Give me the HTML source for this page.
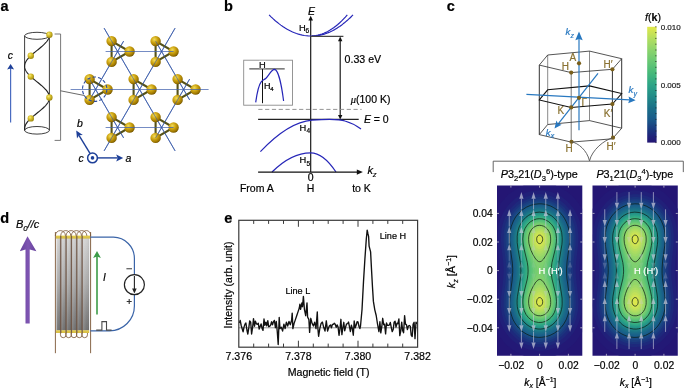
<!DOCTYPE html>
<html><head><meta charset="utf-8"><title>Figure</title>
<style>html,body{margin:0;padding:0;background:#fff;}svg{display:block;}</style></head>
<body><svg width="685" height="389" viewBox="0 0 685 389">
<defs>
<radialGradient id="gball" cx="0.38" cy="0.34" r="0.66">
    <stop offset="0" stop-color="#f2dc5c"/><stop offset="0.45" stop-color="#cfa612"/><stop offset="0.85" stop-color="#a07800"/><stop offset="1" stop-color="#7c5c00"/></radialGradient>
<radialGradient id="gball2" cx="0.38" cy="0.34" r="0.66">
    <stop offset="0" stop-color="#f4ea80"/><stop offset="0.4" stop-color="#dcc430"/><stop offset="1" stop-color="#a08a10"/></radialGradient>
<clipPath id="clipP"><rect x="0" y="0" width="85.3" height="170.2"/></clipPath>
<g id="fieldimg"><rect x="-1" y="-1" width="87.3" height="172.2" fill="#241674"/><path d="M58.1,170.2 27.2,170.2 25.1,169.4 17.9,165.7 14.3,163.3 10.8,160.3 7.8,157.4 4.8,153.8 2.2,150.3 0.0,146.5 0.0,23.5 2.6,19.2 5.2,15.7 8.3,12.1 11.5,9.0 15.1,6.2 18.6,3.8 22.2,1.9 26.7,0.0 58.6,0.0 59.5,0.3 63.1,1.9 67.4,4.3 71.0,6.7 74.5,9.7 77.7,12.8 80.7,16.4 85.3,23.5 85.3,146.5 82.6,151.0 80.0,154.5 76.8,158.1 73.8,161.0 70.2,163.8 66.7,166.2 62.4,168.5 58.1,170.2Z" fill="#231976"/><path d="M45.9,165.2 41.6,165.3 37.3,165.0 33.0,164.2 28.7,162.8 25.1,161.3 20.8,158.8 17.2,156.2 13.7,153.1 10.6,149.5 8.0,146.0 5.9,142.4 4.0,138.2 2.5,133.9 1.2,128.9 0.5,123.9 0.2,119.6 0.5,111.8 2.6,93.3 3.0,84.7 2.6,76.2 0.5,58.4 0.3,49.8 1.2,41.3 3.3,33.5 6.2,27.1 9.9,21.4 14.3,16.4 18.6,12.7 23.7,9.5 29.4,6.9 35.1,5.4 41.6,4.7 45.9,4.8 50.2,5.4 53.8,6.2 58.1,7.8 61.6,9.5 65.2,11.6 68.8,14.4 72.4,17.8 75.4,21.4 77.9,24.9 81.4,32.0 82.9,36.3 84.1,41.3 84.8,46.3 85.1,50.6 84.8,58.4 82.7,76.2 82.3,84.7 82.7,93.3 84.8,111.8 85.0,120.4 84.2,128.2 82.1,136.0 79.7,141.7 76.3,147.4 72.4,152.2 68.1,156.2 63.1,159.7 57.3,162.5 51.6,164.3 45.9,165.2Z" fill="#212079"/><path d="M48.0,161.0 44.4,161.4 40.1,161.3 35.8,160.8 32.3,159.9 28.0,158.3 24.4,156.5 20.8,154.1 17.8,151.7 15.0,148.8 12.1,145.3 9.8,141.7 7.7,137.4 6.1,133.2 5.1,129.6 4.4,125.3 3.9,120.4 4.1,111.8 6.3,93.3 6.7,84.7 6.2,76.2 4.1,58.4 3.9,50.6 4.5,43.4 6.3,36.3 8.6,30.6 11.5,25.6 15.1,21.1 19.4,17.0 23.7,13.9 29.4,11.1 35.1,9.4 40.9,8.6 45.2,8.7 48.7,9.1 52.3,9.9 55.9,11.1 59.5,12.7 63.1,14.8 66.1,17.1 69.2,19.9 71.7,22.8 74.3,26.3 76.4,29.9 78.0,33.5 79.3,37.0 80.4,41.3 81.4,49.8 81.2,58.4 79.2,75.5 78.7,83.3 78.9,91.9 81.0,109.7 81.5,116.8 81.0,124.6 79.4,132.5 77.3,138.2 74.6,143.1 71.6,147.4 67.5,151.7 63.1,155.2 58.8,157.6 53.8,159.7 48.0,161.0Z" fill="#1e297c"/><path d="M48.0,158.2 44.4,158.6 40.1,158.5 36.6,158.1 33.0,157.2 29.4,155.9 25.8,154.1 22.2,151.8 19.4,149.4 16.7,146.7 14.3,143.8 12.1,140.3 10.3,136.7 8.9,133.2 7.6,128.9 6.9,124.6 6.5,120.4 6.7,111.1 8.7,94.7 9.3,86.9 9.0,77.6 6.8,60.5 6.4,53.4 6.8,45.6 8.6,37.7 10.5,32.8 13.3,27.8 16.5,23.5 20.8,19.3 25.1,16.3 30.1,13.8 35.1,12.2 40.9,11.4 44.4,11.4 48.0,11.8 51.6,12.6 55.2,13.8 58.8,15.5 61.6,17.2 64.5,19.3 67.4,22.0 70.0,24.9 72.0,27.8 75.4,34.2 77.0,38.5 77.9,42.0 78.8,49.8 78.7,58.4 76.6,75.5 76.0,83.3 76.4,92.6 78.4,109.0 78.9,116.1 78.5,123.9 77.1,131.0 75.3,136.0 72.8,141.0 69.8,145.3 65.9,149.4 62.4,152.3 58.1,154.9 53.0,157.0 48.0,158.2Z" fill="#1b337e"/><path d="M47.3,156.0 43.7,156.4 40.1,156.3 36.6,155.8 33.0,154.9 29.4,153.5 26.5,152.0 23.7,150.1 20.4,147.4 17.7,144.6 15.5,141.7 11.9,135.3 9.6,128.2 8.9,123.9 8.5,119.6 8.7,111.1 10.8,94.7 11.4,86.9 11.0,77.6 8.9,60.5 8.4,53.4 8.9,45.6 10.5,38.5 12.5,33.5 15.4,28.5 18.6,24.3 22.2,21.0 26.5,18.0 31.5,15.6 36.6,14.2 41.6,13.6 45.2,13.7 48.7,14.2 55.2,16.2 60.9,19.4 63.8,21.6 66.5,24.2 70.9,29.9 74.0,36.3 75.9,42.7 76.8,50.6 76.6,59.1 74.5,75.5 73.9,83.3 74.3,92.6 76.4,109.0 76.8,116.1 76.4,123.9 75.1,130.3 73.4,135.3 71.2,139.6 68.2,143.9 64.5,147.8 60.9,150.6 56.6,153.1 52.3,154.9 47.3,156.0Z" fill="#1b3e81"/><path d="M48.7,153.9 45.2,154.4 41.6,154.5 35.1,153.5 31.5,152.4 28.0,150.7 25.1,148.9 22.3,146.7 17.7,141.7 15.8,138.9 13.9,135.3 12.5,131.7 11.4,128.2 10.3,120.4 10.4,111.1 12.6,94.7 13.1,86.9 12.8,77.6 10.6,60.5 10.2,54.1 10.5,47.0 11.9,39.9 13.8,34.9 16.1,30.6 19.3,26.3 22.9,22.8 27.2,19.7 31.5,17.6 36.6,16.1 40.9,15.6 47.3,15.9 50.9,16.7 53.8,17.6 59.5,20.6 64.5,24.7 68.7,29.9 70.4,32.8 72.1,36.3 74.1,42.7 75.1,49.8 74.9,58.4 72.6,76.2 72.1,84.0 72.5,92.6 74.6,109.0 75.1,115.4 74.9,122.5 73.7,128.9 72.0,133.9 69.9,138.2 67.6,141.7 64.5,145.3 60.9,148.4 57.3,150.7 53.0,152.6 48.7,153.9Z" fill="#1a4884"/><path d="M47.3,152.5 43.7,152.8 40.1,152.7 36.6,152.2 33.7,151.4 28.0,148.8 25.1,146.9 22.4,144.6 18.1,139.6 16.4,136.7 14.6,133.2 13.4,129.6 12.5,126.0 11.7,118.9 11.9,111.1 14.1,94.7 14.7,86.9 14.3,77.1 12.3,62.0 11.7,54.8 11.9,47.7 13.3,40.6 15.2,35.6 17.5,31.3 20.2,27.8 23.7,24.2 28.0,21.2 32.3,19.1 37.3,17.7 41.6,17.2 45.2,17.3 48.0,17.7 53.8,19.4 56.6,20.8 59.5,22.6 63.9,26.3 67.8,31.3 70.7,37.0 72.7,43.4 73.6,50.6 73.4,58.4 71.1,76.2 70.6,84.0 71.0,92.9 73.0,108.2 73.6,114.7 73.4,121.8 72.3,128.2 70.7,133.2 68.5,137.4 66.1,141.0 63.1,144.4 59.5,147.4 55.9,149.6 51.6,151.4 47.3,152.5Z" fill="#1a5388"/><path d="M46.6,151.1 43.7,151.3 40.1,151.3 36.6,150.7 33.7,149.9 28.0,147.1 23.0,143.1 18.9,138.2 15.8,132.5 13.9,126.0 13.0,118.9 13.3,111.1 15.6,94.0 16.1,86.2 15.8,77.4 13.5,61.2 13.0,54.8 13.3,47.7 14.5,41.3 16.1,37.0 18.3,32.8 20.8,29.2 24.4,25.6 28.0,22.9 32.3,20.7 36.6,19.3 41.6,18.7 47.3,19.0 53.0,20.7 58.3,23.5 63.1,27.6 67.0,32.8 69.8,38.5 71.5,44.2 72.3,51.3 72.0,59.1 69.7,76.2 69.2,84.0 69.5,92.6 71.8,109.0 72.3,114.7 72.1,121.1 71.1,127.5 69.7,131.7 67.7,136.0 65.2,139.9 62.3,143.1 58.8,146.1 55.2,148.3 50.9,150.1 46.6,151.1Z" fill="#1a5c8a"/><path d="M47.3,149.6 44.4,150.0 40.9,150.0 35.1,148.9 32.3,147.9 29.4,146.4 24.4,142.7 20.4,138.2 17.2,132.5 15.2,126.0 14.3,118.9 14.5,111.1 16.9,94.0 17.4,86.2 17.0,76.9 14.9,62.0 14.3,55.5 14.4,48.4 15.6,42.0 17.1,37.7 19.3,33.5 22.2,29.5 25.5,26.3 29.4,23.6 33.0,21.8 37.3,20.5 41.6,20.0 47.3,20.4 53.0,22.1 58.1,25.0 62.4,28.8 65.9,33.5 68.5,38.5 70.3,44.9 71.0,51.3 70.8,59.1 68.4,76.2 67.8,84.0 68.3,93.3 70.5,108.2 71.0,113.9 71.0,120.4 70.0,126.8 68.7,131.0 66.7,135.3 64.4,138.9 61.6,142.0 58.7,144.6 55.2,146.8 51.6,148.4 47.3,149.6Z" fill="#1a6289"/><path d="M48.0,148.2 42.3,148.8 36.6,148.0 33.7,147.1 30.8,145.8 25.8,142.3 21.9,138.2 20.0,135.3 18.5,132.5 16.3,126.0 15.4,118.9 15.7,111.1 18.0,94.7 18.7,86.2 18.2,76.9 16.0,62.0 15.4,55.5 15.5,49.1 16.6,42.7 18.1,38.5 20.3,34.2 22.9,30.6 25.8,27.7 29.4,25.0 33.0,23.2 37.3,21.8 41.6,21.3 47.3,21.7 52.3,23.2 56.9,25.6 61.1,29.2 64.5,33.5 67.2,38.5 69.0,44.2 69.9,50.6 69.7,58.4 67.2,75.5 66.6,84.0 67.1,93.3 69.3,108.2 69.9,113.9 69.8,120.4 69.0,126.0 67.7,130.3 66.1,133.9 63.9,137.4 61.6,140.3 58.8,142.9 55.2,145.4 51.6,147.1 48.0,148.2Z" fill="#1b6889"/><path d="M45.2,147.4 39.4,147.4 34.4,146.1 29.4,143.6 26.8,141.7 24.6,139.6 21.3,135.3 18.5,129.6 17.0,123.9 16.4,117.5 16.8,110.4 19.3,94.0 19.8,86.2 19.4,76.9 17.1,62.0 16.5,55.5 16.6,49.1 17.8,42.7 19.3,38.5 21.5,34.4 24.4,30.6 27.2,28.0 30.8,25.5 34.4,23.9 38.0,22.9 42.3,22.4 47.3,22.9 52.3,24.5 56.9,27.1 60.9,30.6 64.1,34.9 66.6,39.9 68.2,45.6 68.9,52.0 68.6,59.1 66.0,76.2 65.5,84.0 65.9,93.1 68.2,108.2 68.8,113.9 68.8,120.4 67.9,126.0 66.5,130.3 64.8,133.9 62.5,137.4 59.5,140.8 56.6,143.1 53.0,145.2 49.5,146.6 45.2,147.4Z" fill="#1b6e88"/><path d="M47.3,146.0 44.4,146.4 41.6,146.4 36.6,145.6 31.5,143.6 26.8,140.3 23.0,136.0 20.2,131.0 18.3,125.3 17.5,118.9 17.7,111.1 20.3,94.0 20.9,86.2 20.4,76.9 18.1,62.0 17.5,56.3 17.5,49.8 18.4,44.2 19.8,39.9 22.0,35.6 24.4,32.3 27.2,29.4 30.1,27.2 33.7,25.3 37.3,24.2 41.6,23.6 46.6,23.9 51.6,25.3 56.0,27.8 60.1,31.3 63.1,35.2 65.5,39.9 67.2,45.6 67.8,51.3 67.6,59.1 65.0,75.5 64.4,84.0 64.9,93.3 67.1,107.5 67.8,113.2 67.8,118.9 67.1,124.6 65.9,128.9 64.4,132.5 62.4,135.9 60.2,138.6 57.3,141.2 54.5,143.2 50.9,144.9 47.3,146.0Z" fill="#1c7588"/><path d="M44.4,145.3 39.4,145.2 34.4,143.8 30.1,141.5 25.8,137.8 22.8,133.9 20.4,128.9 18.9,123.2 18.4,117.5 18.8,110.4 21.4,94.0 22.0,86.2 21.5,76.9 19.1,62.0 18.4,56.3 18.5,49.8 19.4,44.2 20.9,39.9 22.7,36.3 25.1,33.0 28.0,30.1 30.8,28.0 34.4,26.2 38.0,25.1 42.3,24.6 47.3,25.1 51.6,26.5 55.9,29.0 60.0,32.8 63.0,37.0 65.0,41.3 66.4,47.0 66.9,52.7 66.5,59.8 63.9,76.2 63.3,84.0 63.8,93.3 66.2,107.5 66.8,113.2 66.8,119.6 66.0,125.3 64.6,129.6 62.9,133.2 60.4,136.7 58.1,139.3 55.2,141.5 51.6,143.5 48.0,144.7 44.4,145.3Z" fill="#1e7d88"/><path d="M47.3,143.9 42.3,144.4 37.3,143.7 32.3,141.7 28.0,138.6 24.4,134.6 22.0,130.3 20.1,124.6 19.3,118.9 19.6,111.1 22.4,94.0 23.0,85.5 22.5,76.9 20.1,62.7 19.4,57.0 19.4,50.6 20.2,44.9 21.6,40.6 23.4,37.0 25.4,34.2 28.0,31.4 30.8,29.2 34.4,27.3 38.0,26.1 41.6,25.6 46.6,26.0 50.9,27.3 55.2,29.7 58.7,32.8 61.6,36.6 64.0,41.3 65.4,46.3 66.0,51.3 65.7,59.1 62.9,76.2 62.3,84.7 62.8,93.3 65.8,112.5 66.0,118.2 65.3,123.9 64.4,127.5 63.0,131.0 61.3,133.9 59.2,136.7 56.6,139.2 53.8,141.3 50.9,142.7 47.3,143.9Z" fill="#208588"/><path d="M45.9,143.1 40.9,143.3 36.6,142.5 32.3,140.6 28.0,137.3 24.6,133.2 22.4,128.9 20.9,123.9 20.2,118.2 20.5,111.1 23.4,94.0 24.0,85.5 23.5,76.9 21.0,62.7 20.3,57.0 20.2,50.6 21.2,44.9 22.3,41.3 24.0,37.7 26.0,34.9 28.7,32.0 31.5,29.9 35.1,28.0 38.7,27.0 42.3,26.6 46.6,27.0 50.9,28.3 54.5,30.4 58.1,33.5 60.9,37.2 63.3,42.0 64.6,47.0 65.1,52.0 64.8,59.1 61.9,76.2 61.3,84.7 61.9,93.3 65.0,112.5 65.1,118.2 64.4,123.9 63.5,127.5 61.9,131.0 60.2,133.9 57.9,136.7 55.2,139.1 52.3,141.0 49.5,142.2 45.9,143.1Z" fill="#228d88"/><path d="M43.0,142.4 38.7,142.0 34.4,140.6 30.8,138.5 27.2,135.2 24.4,131.0 22.5,126.8 21.4,121.8 21.0,116.8 21.6,109.0 24.5,92.6 25.0,85.5 24.4,76.9 21.9,62.7 21.1,57.0 21.1,51.3 21.9,45.6 23.0,42.0 24.7,38.5 26.6,35.6 29.4,32.7 32.3,30.5 35.1,29.1 38.7,28.0 42.3,27.6 46.6,28.0 50.9,29.4 54.5,31.5 58.1,34.9 60.9,39.0 62.8,43.4 64.0,48.4 64.3,53.4 63.9,59.8 61.0,76.2 60.3,84.0 60.9,93.3 63.5,107.5 64.2,113.2 64.2,118.9 63.4,124.6 62.3,128.2 60.5,131.7 58.6,134.6 55.9,137.3 53.0,139.5 50.0,141.0 46.6,142.0 43.0,142.4Z" fill="#259488"/><path d="M46.6,141.1 41.6,141.5 37.3,140.7 33.0,138.8 29.4,136.1 26.3,132.5 24.0,128.2 22.5,123.2 21.9,118.2 22.3,110.4 25.3,94.0 26.0,85.5 25.4,76.9 22.7,62.7 22.0,57.0 21.9,51.3 22.6,46.3 23.6,42.7 25.3,39.2 27.2,36.3 29.4,33.9 32.3,31.6 35.1,30.1 38.0,29.1 41.6,28.5 45.9,28.8 50.2,30.1 53.8,32.1 56.9,34.9 59.6,38.5 61.7,42.7 62.9,47.0 63.4,52.0 63.1,59.1 60.0,76.2 59.3,84.7 59.9,93.3 62.6,107.5 63.3,112.5 63.5,117.5 63.0,122.5 62.1,126.0 61.0,128.9 59.5,131.7 57.3,134.6 55.2,136.8 52.3,138.8 49.5,140.2 46.6,141.1Z" fill="#289b87"/><path d="M45.9,140.3 41.6,140.6 37.3,139.8 33.0,137.8 29.8,135.3 26.8,131.7 24.6,127.5 23.2,122.5 22.6,117.5 23.1,110.4 26.2,94.0 27.0,85.5 26.3,76.9 23.6,62.7 22.8,57.0 22.7,51.3 23.4,46.3 24.5,42.7 25.8,39.9 28.0,36.7 30.4,34.2 33.0,32.2 35.8,30.7 38.7,29.8 42.3,29.4 46.6,29.8 50.2,31.1 53.8,33.2 56.6,35.9 59.1,39.2 60.9,43.1 62.0,47.0 62.6,52.0 62.3,59.1 59.1,76.2 58.3,84.7 59.0,93.3 61.8,107.5 62.5,112.5 62.7,117.5 62.1,122.5 61.2,126.0 60.1,128.9 58.5,131.7 56.6,134.1 54.5,136.2 51.6,138.2 48.7,139.5 45.9,140.3Z" fill="#2ba287"/><path d="M44.4,139.6 40.1,139.5 36.6,138.6 33.0,136.7 29.6,133.9 26.9,130.3 25.2,126.8 24.0,122.5 23.4,117.5 23.9,110.4 27.1,94.0 27.9,85.5 27.3,76.9 24.4,62.7 23.7,57.7 23.5,52.0 24.1,47.0 25.1,43.4 26.5,40.4 28.7,37.2 30.8,34.9 33.7,32.8 36.6,31.4 39.4,30.6 42.3,30.3 45.9,30.6 49.5,31.7 53.0,33.8 55.9,36.3 58.5,39.9 60.2,43.4 61.4,47.7 61.9,52.7 61.4,59.8 58.1,76.2 57.4,84.7 58.0,93.3 61.6,111.8 61.9,117.5 61.3,122.5 60.4,126.0 59.2,128.9 57.5,131.7 55.2,134.4 53.0,136.2 50.2,138.0 47.3,139.0 44.4,139.6Z" fill="#30a885"/><path d="M46.6,138.3 42.3,138.8 38.0,138.1 34.4,136.6 30.8,133.9 28.0,130.4 26.1,126.8 24.8,122.5 24.2,117.5 24.7,110.4 28.2,93.3 28.9,85.5 28.8,81.2 28.2,76.9 25.3,63.4 24.4,57.7 24.2,52.7 24.8,47.7 25.7,44.2 27.0,41.3 28.7,38.5 30.8,36.1 33.2,34.2 35.8,32.7 38.7,31.7 42.3,31.2 45.9,31.5 49.5,32.7 52.3,34.3 55.4,37.0 57.5,39.9 59.3,43.4 60.5,47.7 61.1,52.0 61.0,55.5 60.6,59.8 57.2,76.2 56.6,80.5 56.4,84.7 56.5,89.0 57.1,93.3 60.0,106.8 60.8,111.8 61.1,116.8 60.6,121.8 60.0,124.6 58.9,127.5 57.4,130.3 55.8,132.5 53.8,134.6 51.6,136.2 49.5,137.3 46.6,138.3Z" fill="#37ad82"/><path d="M45.9,137.6 41.6,137.9 38.0,137.2 34.4,135.6 31.3,133.2 28.7,130.0 26.7,126.0 25.5,121.8 25.0,117.5 25.5,110.4 29.2,93.3 30.0,85.5 29.8,81.2 29.2,76.9 26.2,63.4 25.2,57.7 25.0,52.7 25.6,47.7 26.6,44.2 27.9,41.3 29.4,39.0 31.5,36.6 33.7,34.9 36.6,33.3 39.4,32.4 42.3,32.1 45.9,32.4 49.1,33.5 52.3,35.4 54.9,37.7 57.0,40.6 58.7,44.2 59.9,48.4 60.3,52.7 59.8,59.8 56.1,76.9 55.3,84.7 55.5,89.0 56.1,93.3 59.2,106.8 60.0,111.8 60.3,116.8 60.0,121.1 59.4,123.9 58.4,126.8 56.9,129.6 55.2,131.9 53.0,134.1 50.9,135.6 48.6,136.7 45.9,137.6Z" fill="#3eb37e"/><path d="M45.2,136.8 41.6,137.0 38.0,136.3 34.4,134.6 31.5,132.2 29.4,129.6 27.5,126.0 26.3,121.8 25.8,117.5 26.3,110.4 30.2,93.3 31.0,85.5 30.8,81.2 30.2,76.9 27.0,63.4 26.1,58.4 25.8,53.4 26.2,48.4 26.9,45.6 28.1,42.7 29.7,39.9 31.5,37.7 33.7,35.9 36.6,34.3 39.4,33.3 42.3,33.0 45.9,33.3 48.7,34.3 51.6,35.9 54.5,38.5 56.5,41.3 58.1,44.9 59.1,48.4 59.5,52.7 59.0,59.8 55.1,76.9 54.3,84.7 55.0,92.6 59.1,111.1 59.5,116.1 59.2,121.1 58.5,123.9 57.5,126.8 55.9,129.6 54.5,131.5 52.3,133.5 50.2,135.0 48.0,136.0 45.2,136.8Z" fill="#45b87a"/><path d="M44.4,136.0 40.9,136.0 37.3,135.1 34.4,133.6 31.5,131.0 29.5,128.2 27.8,124.6 26.9,121.1 26.5,116.8 27.2,109.7 31.2,93.3 31.9,89.0 32.1,85.5 31.9,81.2 31.2,76.9 28.0,64.0 26.9,58.4 26.5,53.4 27.0,48.4 27.8,45.6 29.0,42.7 30.3,40.6 32.3,38.2 34.6,36.3 37.3,34.9 39.4,34.2 42.3,33.8 45.9,34.2 48.7,35.2 51.6,37.0 53.9,39.2 56.0,42.0 57.3,45.0 58.3,48.4 58.8,52.7 58.2,59.8 54.1,76.9 53.4,81.2 53.2,84.7 53.3,88.3 54.0,92.6 57.4,106.1 58.4,111.1 58.8,116.1 58.4,121.1 57.7,123.9 56.6,126.7 55.4,128.9 53.8,131.0 51.6,133.0 49.5,134.4 47.3,135.4 44.4,136.0Z" fill="#4fbd78"/><path d="M46.6,134.7 43.0,135.3 39.4,134.9 36.6,133.8 33.5,131.7 30.9,128.9 29.0,125.3 27.8,121.8 27.3,117.5 27.4,113.9 28.0,109.7 32.4,92.6 33.3,85.5 33.1,81.9 32.5,77.6 28.8,64.1 27.8,59.1 27.3,54.1 27.7,49.1 28.4,46.3 29.5,43.4 30.8,41.2 33.0,38.7 35.1,37.0 37.3,35.8 39.4,35.1 42.3,34.7 45.2,35.0 48.0,35.8 50.9,37.5 53.4,39.9 55.4,42.7 56.7,45.6 57.6,49.1 58.0,52.7 57.9,56.3 57.3,60.5 53.0,76.9 52.3,81.2 52.0,84.7 52.2,88.3 52.9,92.6 56.5,106.1 57.6,111.1 58.0,116.1 57.7,120.4 56.3,125.3 53.9,129.6 50.9,132.5 48.7,133.8 46.6,134.7Z" fill="#58c177"/><path d="M45.9,134.0 43.0,134.4 39.4,134.0 36.6,132.8 33.7,130.8 31.5,128.4 29.8,125.3 28.7,121.8 28.1,117.5 28.2,113.9 28.8,109.7 33.6,92.6 34.3,89.0 34.6,85.5 34.4,81.9 33.6,77.6 29.7,64.1 28.6,59.1 28.1,54.1 28.5,49.1 30.1,44.2 31.3,42.0 33.0,39.9 35.1,38.1 37.3,36.8 39.4,36.0 42.3,35.6 45.2,35.9 48.0,36.8 50.7,38.5 52.9,40.6 54.9,43.4 56.1,46.3 56.8,49.1 57.2,52.7 57.1,56.3 56.5,60.5 51.8,76.9 51.0,81.2 50.7,84.7 50.9,88.3 51.7,92.6 55.5,105.4 56.6,110.4 57.2,115.4 57.0,119.6 55.8,124.6 53.4,128.9 50.2,131.9 48.0,133.2 45.9,134.0Z" fill="#61c575"/><path d="M45.2,133.2 41.6,133.4 38.7,132.8 35.8,131.4 33.7,129.6 31.5,126.8 30.1,123.9 29.2,120.4 28.9,116.8 29.0,113.2 29.8,109.0 34.9,92.6 35.8,88.3 36.0,84.7 35.7,81.2 34.9,77.6 30.8,65.0 29.5,59.8 28.9,54.8 29.2,49.8 29.8,47.0 30.8,44.5 32.3,42.1 33.7,40.4 35.8,38.6 38.0,37.5 40.1,36.8 42.3,36.5 45.2,36.8 47.9,37.7 50.2,39.1 52.3,41.2 53.9,43.4 55.2,46.3 56.0,49.1 56.4,52.7 56.2,57.0 55.5,61.2 50.4,77.6 49.6,81.2 49.3,84.7 49.5,88.3 50.2,91.9 54.5,105.0 55.8,110.4 56.4,115.4 56.2,119.6 54.9,124.6 53.8,126.8 52.3,128.8 50.8,130.3 48.9,131.7 45.2,133.2Z" fill="#6bc973"/><path d="M43.7,132.5 40.9,132.4 38.5,131.7 35.8,130.3 33.7,128.3 32.1,126.0 30.8,123.2 30.0,120.4 29.7,116.8 29.9,112.5 30.8,108.2 32.3,103.5 36.8,91.2 37.6,87.6 37.8,84.7 37.5,81.9 36.9,79.0 32.3,66.5 30.5,60.5 29.7,54.8 30.0,49.8 30.7,47.0 31.6,44.9 32.9,42.7 34.4,40.9 35.8,39.7 38.0,38.5 40.1,37.7 42.3,37.5 45.2,37.7 47.3,38.5 49.7,39.9 51.9,42.0 53.4,44.2 54.6,47.0 55.3,49.8 55.6,53.4 55.3,57.7 54.5,61.9 53.0,66.5 48.4,79.0 47.8,81.9 47.5,84.7 47.7,87.6 48.5,91.2 53.0,103.5 54.8,109.7 55.6,114.7 55.4,119.6 54.8,122.5 54.0,124.6 51.6,128.3 50.2,129.7 48.0,131.2 45.9,132.1 43.7,132.5Z" fill="#75cc71"/><path d="M45.9,131.1 43.0,131.6 40.1,131.3 38.0,130.5 35.6,128.9 33.6,126.8 31.9,123.9 31.0,121.1 30.5,117.5 30.8,112.5 32.1,106.8 34.4,100.8 39.8,89.0 40.5,86.9 40.7,84.7 39.9,81.2 34.4,69.2 32.0,62.7 30.6,56.3 30.7,50.6 31.3,47.7 32.2,45.6 34.6,42.0 36.2,40.6 38.0,39.5 40.1,38.7 42.3,38.4 44.4,38.6 46.6,39.2 48.7,40.3 50.9,42.2 52.3,44.2 53.7,47.0 54.5,49.8 54.8,52.7 54.5,57.7 53.0,63.6 50.9,69.2 45.4,81.2 44.6,84.7 44.8,86.9 45.5,89.0 50.9,100.8 53.4,107.5 54.6,113.2 54.7,118.9 53.6,123.2 51.7,126.8 48.8,129.6 45.9,131.1Z" fill="#7fd06f"/><path d="M43.7,77.3 42.3,77.5 40.9,76.8 38.7,74.3 36.6,70.9 34.4,66.5 32.9,62.7 31.8,58.4 31.4,54.8 31.4,52.0 31.8,49.1 32.8,46.3 34.0,44.2 35.8,42.1 38.0,40.6 40.1,39.7 42.3,39.4 44.4,39.6 46.6,40.2 48.5,41.3 50.2,42.8 51.7,44.9 52.8,47.0 53.6,49.8 54.0,52.7 53.9,55.5 53.4,59.1 51.3,65.5 49.5,69.5 47.3,73.3 45.2,76.1 43.7,77.3ZM44.4,130.4 41.6,130.5 39.4,130.0 37.3,129.0 35.4,127.5 33.7,125.3 32.6,123.2 31.7,120.4 31.4,117.5 31.4,114.7 31.9,111.1 33.0,107.2 34.4,103.5 36.6,99.1 38.7,95.7 40.9,93.2 42.3,92.5 43.7,92.7 45.2,93.9 47.3,96.7 49.5,100.5 51.4,104.7 52.7,108.2 53.5,111.8 54.0,115.4 53.9,118.2 53.4,121.1 52.7,123.2 51.6,125.3 50.2,127.2 48.7,128.5 46.6,129.8 44.4,130.4Z" fill="#89d36d"/><path d="M43.7,73.6 42.3,73.8 40.1,72.7 38.7,71.3 36.6,68.2 34.8,64.8 33.5,61.2 32.6,57.7 32.2,54.8 32.3,52.0 32.8,49.1 33.5,47.0 34.7,44.9 35.9,43.4 38.0,41.7 40.1,40.8 42.3,40.4 44.3,40.6 45.9,41.0 47.7,42.0 49.5,43.5 50.9,45.3 52.1,47.7 52.7,49.8 53.1,52.7 53.0,55.5 52.6,58.4 51.6,61.9 50.5,64.8 47.3,70.4 45.2,72.7 43.7,73.6ZM45.9,129.0 43.7,129.5 41.6,129.5 39.3,128.9 36.9,127.5 35.1,125.7 33.7,123.4 32.8,121.1 32.3,118.2 32.2,115.4 32.7,111.8 33.7,108.1 35.1,104.5 36.6,101.8 38.7,98.7 40.9,96.8 42.3,96.2 43.7,96.4 45.2,97.3 46.6,98.7 48.7,101.8 51.6,108.1 53.0,113.9 52.9,118.9 51.7,123.2 50.5,125.3 49.2,126.8 47.4,128.2 45.9,129.0Z" fill="#94d669"/><path d="M43.7,70.7 42.3,70.9 40.9,70.4 39.4,69.4 37.3,66.8 35.8,64.3 34.4,60.9 33.5,57.7 33.2,54.8 33.2,52.0 33.6,49.8 34.2,47.7 35.4,45.6 36.6,44.2 38.7,42.6 40.1,41.9 42.3,41.5 44.4,41.7 45.9,42.2 47.9,43.4 49.4,44.9 51.3,48.4 52.2,52.7 52.1,55.5 51.6,58.4 49.9,63.4 48.0,66.8 46.6,68.7 45.2,70.0 43.7,70.7ZM44.4,128.3 42.3,128.5 40.1,128.1 38.7,127.4 36.8,126.0 35.6,124.6 34.3,122.5 33.6,120.4 33.2,117.5 33.2,114.7 33.6,111.8 34.5,109.0 35.8,105.7 38.7,101.3 40.9,99.6 42.3,99.1 43.7,99.3 45.2,100.0 46.6,101.3 48.0,103.2 49.5,105.7 50.8,109.0 51.7,111.8 52.1,114.7 51.9,119.6 51.3,121.8 50.2,123.9 47.7,126.8 45.9,127.8 44.4,128.3Z" fill="#9fd966"/><path d="M44.4,67.9 43.0,68.3 40.9,67.9 39.4,66.9 38.0,65.3 36.6,63.1 35.4,60.5 34.6,57.7 34.2,54.8 34.4,50.6 35.1,48.3 36.2,46.3 38.7,43.9 40.1,43.2 42.3,42.7 45.2,43.2 46.6,43.9 48.0,45.0 49.1,46.3 50.2,48.3 51.1,52.0 50.9,56.9 49.6,61.2 47.3,65.3 45.9,66.9 44.4,67.9ZM45.2,126.8 43.7,127.2 41.6,127.2 39.4,126.5 38.0,125.6 36.6,124.2 35.5,122.5 34.6,120.4 34.2,118.2 34.1,115.4 34.4,113.1 35.1,110.3 36.3,107.5 38.0,104.7 39.4,103.1 40.9,102.1 42.3,101.7 43.7,101.8 45.2,102.5 46.6,103.8 48.0,105.7 50.2,110.3 51.1,114.7 51.0,118.9 49.8,122.5 48.0,125.0 46.6,126.1 45.2,126.8Z" fill="#aadc62"/><path d="M43.7,65.8 42.3,65.9 40.9,65.5 38.4,63.4 36.4,59.8 35.7,57.7 35.2,54.8 35.4,51.3 36.7,47.7 38.0,46.0 39.4,44.9 42.3,44.0 45.2,44.5 47.6,46.3 49.3,49.1 50.1,52.7 49.8,57.0 48.6,60.5 46.6,63.7 45.2,65.1 43.7,65.8ZM45.2,125.5 43.7,125.9 41.6,125.9 40.1,125.5 38.7,124.6 37.3,123.2 36.4,121.8 35.3,118.2 35.4,113.9 35.9,111.8 37.0,109.0 38.0,107.2 39.4,105.5 40.9,104.5 42.3,104.1 43.7,104.2 45.2,104.9 47.3,107.2 49.0,110.4 50.0,114.7 50.0,118.2 49.2,121.1 47.4,123.9 45.2,125.5Z" fill="#b5de5e"/><path d="M43.7,63.4 41.6,63.4 39.4,61.9 38.0,59.9 37.3,58.4 36.5,54.8 36.6,51.3 37.8,48.4 39.8,46.3 42.3,45.5 44.4,45.8 46.6,47.2 48.0,49.3 48.9,52.7 48.7,55.7 47.7,59.1 45.9,61.9 43.7,63.4ZM44.4,124.2 43.0,124.5 41.6,124.4 39.1,123.2 37.3,120.7 36.4,117.5 36.6,113.9 38.0,110.1 40.1,107.4 42.3,106.5 44.4,106.9 46.6,108.9 48.0,111.6 48.8,114.7 48.8,118.2 48.0,120.7 46.6,122.8 44.4,124.2Z" fill="#c2e159"/><path d="M43.7,60.7 42.3,60.9 41.6,60.7 40.1,59.8 38.7,57.6 37.9,54.8 38.0,52.0 38.7,49.8 40.1,48.1 42.3,47.3 44.4,47.7 45.9,48.8 46.9,50.6 47.4,52.7 47.3,55.3 46.6,57.6 45.2,59.8 43.7,60.7ZM43.7,122.6 41.6,122.6 40.0,121.8 38.7,120.1 37.9,117.5 38.0,114.7 38.7,112.4 40.1,110.2 40.9,109.6 42.3,109.1 43.7,109.3 44.4,109.6 45.9,111.1 46.9,113.2 47.4,115.4 47.3,118.0 46.6,120.1 45.3,121.8 43.7,122.6Z" fill="#cfe453"/><path d="M43.7,57.3 42.3,57.6 41.6,57.3 40.6,56.3 40.1,54.8 39.9,53.4 40.2,52.0 41.0,50.6 42.3,49.9 43.0,49.9 44.3,50.6 45.3,52.7 45.2,55.2 44.4,56.6 43.7,57.3ZM43.7,119.9 43.0,120.1 41.6,119.9 40.6,118.9 40.0,117.5 39.9,116.1 40.2,114.7 41.0,113.2 42.3,112.4 43.2,112.5 44.3,113.2 45.3,115.4 45.2,118.0 44.4,119.3 43.7,119.9Z" fill="#dce74d"/><path d="M44.4,151.7 41.6,151.8 38.0,151.4 35.1,150.8 32.3,149.8 29.4,148.4 26.5,146.7 23.9,144.6 21.7,142.4 19.4,139.6 17.5,136.7 16.0,133.9 14.9,131.0 14.0,128.2 13.2,124.6 12.8,121.1 12.6,117.5 13.0,110.4 15.1,94.7 15.7,86.9 15.7,82.6 15.4,77.6 13.1,61.2 12.6,54.8 12.7,50.6 13.0,47.0 13.4,44.2 14.3,40.6 16.3,35.6 18.6,31.4 21.5,27.8 25.1,24.4 29.4,21.6 33.7,19.7 38.0,18.6 42.3,18.2 45.2,18.3 48.0,18.7 50.9,19.5 53.8,20.5 56.6,22.0 59.0,23.5 61.6,25.6 63.8,27.8 65.6,29.9 67.5,32.8 69.0,35.6 70.2,38.5 71.2,41.3 72.0,44.9 72.5,48.4 72.7,52.0 72.6,55.5 72.3,59.8 70.1,75.5 69.6,83.3 69.6,87.6 69.9,92.6 72.2,109.0 72.7,115.4 72.7,118.9 72.4,122.5 72.0,125.3 71.1,128.9 69.3,133.9 66.9,138.2 64.3,141.7 60.9,145.0 57.3,147.6 53.0,149.8 48.7,151.1 44.4,151.7Z" fill="none" stroke="#0c1a14" stroke-opacity="0.85" stroke-width="0.85"/><path d="M45.9,143.2 43.7,143.5 40.9,143.4 36.6,142.6 34.4,141.8 32.3,140.7 30.1,139.2 28.0,137.4 26.0,135.3 24.5,133.2 22.3,128.9 20.8,123.9 20.3,121.1 20.1,118.2 20.1,114.7 20.4,111.1 23.3,94.0 23.7,89.7 23.9,85.5 23.8,81.2 23.4,76.9 20.9,62.7 20.2,57.0 20.2,50.6 20.5,47.7 21.1,44.9 22.2,41.3 23.9,37.7 25.9,34.9 28.7,31.9 31.5,29.8 35.1,27.9 38.7,26.9 42.3,26.5 46.6,26.9 48.7,27.4 50.9,28.2 54.5,30.2 56.6,31.9 58.2,33.5 60.0,35.6 61.4,37.7 63.4,42.0 64.7,47.0 65.2,52.0 65.2,55.5 64.9,59.1 62.0,76.2 61.6,80.5 61.4,84.7 61.5,89.0 62.0,93.3 64.4,107.5 65.1,112.5 65.2,118.2 65.0,121.1 64.5,123.9 63.5,127.5 62.0,131.0 60.2,134.0 58.0,136.7 55.2,139.2 52.3,141.1 49.5,142.3 45.9,143.2Z" fill="none" stroke="#0c1a14" stroke-opacity="0.85" stroke-width="0.85"/><path d="M45.2,136.7 41.6,136.9 38.0,136.2 35.8,135.3 34.4,134.5 31.5,132.1 29.0,128.9 27.3,125.3 26.3,121.8 25.9,117.5 25.9,113.9 26.3,110.4 27.2,105.9 30.3,93.3 30.9,89.0 31.1,85.5 30.9,81.2 30.3,76.9 27.1,63.4 26.2,58.4 25.8,53.4 26.3,48.4 27.0,45.6 28.1,42.7 29.9,39.9 31.7,37.7 33.7,36.0 36.6,34.4 39.4,33.4 42.3,33.1 45.9,33.4 48.7,34.4 51.6,36.0 54.5,38.7 56.4,41.3 58.1,44.9 59.0,48.4 59.5,52.7 59.4,56.3 58.9,59.8 58.1,64.1 55.0,76.9 54.4,81.2 54.2,84.7 54.4,89.0 55.0,93.3 58.1,106.1 59.1,111.1 59.5,116.1 59.1,121.1 58.4,123.9 57.4,126.8 55.9,129.5 54.5,131.3 52.3,133.4 50.2,134.9 48.0,135.9 45.2,136.7Z" fill="none" stroke="#0c1a14" stroke-opacity="0.85" stroke-width="0.85"/><path d="M43.0,76.2 41.6,76.0 40.1,75.0 38.0,72.4 35.8,68.7 34.0,64.8 32.8,61.2 31.9,57.7 31.6,54.1 31.7,51.3 32.3,48.4 33.1,46.3 34.4,44.1 35.8,42.5 38.0,40.9 40.1,40.0 42.3,39.7 44.4,39.9 46.6,40.6 48.7,41.9 50.4,43.4 51.8,45.6 52.8,47.7 53.5,50.6 53.7,53.4 53.6,56.3 52.9,59.8 51.6,64.0 50.2,67.3 48.7,70.0 46.6,73.4 44.4,75.6 43.0,76.2Z" fill="none" stroke="#0c1a14" stroke-opacity="0.85" stroke-width="0.85"/><path d="M45.9,129.7 43.7,130.2 40.9,130.1 38.7,129.4 36.6,128.1 34.5,126.0 33.2,123.9 32.2,121.1 31.7,118.2 31.6,115.4 32.0,111.8 33.0,108.1 34.4,104.3 36.6,100.0 38.7,96.6 40.9,94.4 42.3,93.8 43.7,94.0 45.2,95.0 46.6,96.6 48.7,100.0 50.9,104.3 52.1,107.5 53.0,110.7 53.6,113.9 53.7,116.8 53.6,118.9 52.9,121.8 52.1,123.9 50.9,125.9 49.5,127.5 47.6,128.9 45.9,129.7Z" fill="none" stroke="#0c1a14" stroke-opacity="0.85" stroke-width="0.85"/><path d="M43.7,57.8 43.0,58.0 42.3,58.0 41.6,57.8 40.9,57.2 40.2,56.3 39.8,54.8 39.7,52.7 40.1,51.3 40.9,50.2 41.6,49.7 42.3,49.5 43.7,49.7 44.4,50.2 45.2,51.3 45.6,52.7 45.7,54.1 45.4,55.5 44.6,57.0 43.7,57.8Z" fill="none" stroke="#0c1a14" stroke-opacity="0.85" stroke-width="0.85"/><path d="M43.0,120.5 41.6,120.3 40.7,119.6 39.9,118.2 39.6,116.8 39.7,115.4 40.1,113.9 40.9,112.8 41.6,112.2 42.3,112.0 43.0,112.0 43.7,112.2 44.4,112.8 45.2,113.9 45.7,116.1 45.6,117.5 45.1,118.9 44.4,119.8 43.7,120.3 43.0,120.5Z" fill="none" stroke="#0c1a14" stroke-opacity="0.85" stroke-width="0.85"/></g>
<linearGradient id="gcb" x1="0" y1="1" x2="0" y2="0"><stop offset="0.00" stop-color="#241674"/><stop offset="0.05" stop-color="#20227a"/><stop offset="0.10" stop-color="#1b347e"/><stop offset="0.20" stop-color="#1a5a8a"/><stop offset="0.30" stop-color="#1b7088"/><stop offset="0.40" stop-color="#228c88"/><stop offset="0.50" stop-color="#2da587"/><stop offset="0.60" stop-color="#46b97a"/><stop offset="0.70" stop-color="#68c874"/><stop offset="0.80" stop-color="#8cd46c"/><stop offset="0.90" stop-color="#b4de5f"/><stop offset="1.00" stop-color="#e2e84a"/></linearGradient>
<linearGradient id="gcoil" x1="0" y1="0" x2="0" y2="1"><stop offset="0" stop-color="#d2d2d2"/><stop offset="0.5" stop-color="#a8a8a8"/><stop offset="1" stop-color="#6c6c6c"/></linearGradient>
<linearGradient id="gcol" x1="0" y1="0" x2="1" y2="0"><stop offset="0" stop-color="#fff" stop-opacity="0.25"/><stop offset="0.5" stop-color="#fff" stop-opacity="0.05"/><stop offset="1" stop-color="#000" stop-opacity="0.12"/></linearGradient>
<linearGradient id="gyel" x1="0" y1="0" x2="0" y2="1"><stop offset="0" stop-color="#e4cc4c"/><stop offset="1" stop-color="#d6bc44"/></linearGradient>
<linearGradient id="gpur" x1="0" y1="0" x2="1" y2="0"><stop offset="0" stop-color="#66419c"/><stop offset="0.5" stop-color="#7e55b2"/><stop offset="1" stop-color="#66419c"/></linearGradient>
</defs>
<rect width="685" height="389" fill="#fff"/>
<text x="0.6" y="10.7" font-size="14.5" font-weight="bold" font-family="Liberation Sans, Arial, sans-serif" stroke="#000" stroke-width="0.2">a</text>
<line x1="10.6" y1="122.5" x2="10.6" y2="68" stroke="#4a6cc0" stroke-width="1.2"/>
<path d="M10.6,63.9 L14.1,69.6 L10.6,68.4 L7.1,69.6Z" fill="#1d3f98"/>
<text x="10.3" y="58.6" font-size="10.5" font-style="italic" text-anchor="middle" font-family="Liberation Sans, Arial, sans-serif" stroke="#000" stroke-width="0.2">c</text>
<ellipse cx="37.0" cy="35.8" rx="12.4" ry="3.5" fill="none" stroke="#2a2a2a" stroke-width="0.9"/>
<ellipse cx="37.0" cy="130.3" rx="12.4" ry="3.8" fill="none" stroke="#2a2a2a" stroke-width="0.9"/>
<line x1="24.6" y1="35.8" x2="24.6" y2="130.3" stroke="#2a2a2a" stroke-width="0.9"/>
<line x1="49.4" y1="35.8" x2="49.4" y2="130.3" stroke="#2a2a2a" stroke-width="0.9"/>
<polyline points="49.40,34.80 49.39,35.28 49.34,35.76 49.27,36.24 49.17,36.72 49.04,37.20 48.89,37.68 48.70,38.16 48.49,38.64 48.26,39.12 47.99,39.60 47.71,40.08 47.39,40.56 47.05,41.04 46.69,41.52 46.31,42.00 45.91,42.48 45.48,42.96 45.04,43.44 44.57,43.92 44.09,44.40 43.60,44.88 43.08,45.36 42.56,45.84 42.02,46.32 41.47,46.80 40.91,47.28 40.34,47.76 39.76,48.24 39.17,48.72 38.58,49.20 37.99,49.68 37.40,50.16 36.80,50.64 36.20,51.12 35.61,51.60 35.02,52.08 34.43,52.56 33.85,53.04 33.28,53.52 32.72,54.00 32.16,54.48 31.62,54.96 31.09,55.44 30.57,55.92 30.07,56.40 29.58,56.88 29.11,57.36 28.66,57.84 28.23,58.32 27.82,58.79 27.43,59.27 27.06,59.75 26.72,60.23 26.39,60.71 26.10,61.19 25.83,61.67 25.58,62.15 25.36,62.63 25.17,63.11 25.00,63.59 24.87,64.07 24.76,64.55 24.68,65.03 24.63,65.51 24.60,65.99 24.61,66.47 24.64,66.95 24.70,67.43 24.79,67.91 24.91,68.39 25.06,68.87 25.23,69.35 25.43,69.83 25.66,70.31 25.92,70.79 26.20,71.27 26.50,71.75 26.83,72.23 27.19,72.71 27.56,73.19 27.96,73.67 28.38,74.15 28.82,74.63 29.27,75.11 29.75,75.59 30.24,76.07 30.75,76.55 31.27,77.03 31.80,77.51 32.35,77.99 32.91,78.47 33.48,78.95 34.05,79.43 34.64,79.91 35.22,80.39 35.82,80.87 36.41,81.35 37.01,81.83 37.60,82.31 38.20,82.79 38.79,83.27 39.38,83.75 39.96,84.23 40.53,84.71 41.10,85.19 41.66,85.67 42.21,86.15 42.74,86.63 43.26,87.11 43.77,87.59 44.26,88.07 44.74,88.55 45.19,89.03 45.63,89.51 46.05,89.99 46.45,90.47 46.82,90.95 47.17,91.43 47.50,91.91 47.81,92.39 48.09,92.87 48.34,93.35 48.57,93.83 48.77,94.31 48.94,94.79 49.09,95.27 49.21,95.75 49.30,96.23 49.36,96.71 49.39,97.19 49.40,97.67 49.37,98.15 49.32,98.63 49.24,99.11 49.13,99.59 48.99,100.07 48.83,100.55 48.63,101.03 48.41,101.51 48.17,101.99 47.90,102.47 47.60,102.95 47.28,103.43 46.93,103.91 46.56,104.39 46.17,104.87 45.76,105.35 45.33,105.83 44.88,106.31 44.41,106.78 43.92,107.26 43.42,107.74 42.90,108.22 42.37,108.70 41.83,109.18 41.27,109.66 40.71,110.14 40.14,110.62 39.55,111.10 38.97,111.58 38.38,112.06 37.78,112.54 37.19,113.02 36.59,113.50 36.00,113.98 35.40,114.46 34.81,114.94 34.23,115.42 33.65,115.90 33.08,116.38 32.52,116.86 31.97,117.34 31.43,117.82 30.91,118.30 30.39,118.78 29.90,119.26 29.42,119.74 28.95,120.22 28.51,120.70 28.08,121.18 27.68,121.66 27.30,122.14 26.94,122.62 26.60,123.10 26.29,123.58 26.00,124.06 25.74,124.54 25.50,125.02 25.29,125.50 25.11,125.98 24.95,126.46 24.83,126.94 24.73,127.42 24.66,127.90 24.61,128.38 24.60,128.86 24.61,129.34 24.66,129.82 24.73,130.30" fill="none" stroke="#222" stroke-width="1.15"/>
<circle cx="49.40" cy="34.80" r="3.2" fill="url(#gball2)"/>
<circle cx="30.80" cy="55.70" r="3.2" fill="url(#gball2)"/>
<circle cx="30.80" cy="76.60" r="3.2" fill="url(#gball2)"/>
<circle cx="49.40" cy="97.50" r="3.2" fill="url(#gball2)"/>
<circle cx="30.80" cy="118.40" r="3.2" fill="url(#gball2)"/>
<path d="M54.6,34 H60.6 V140.4 H54.6" fill="none" stroke="#6a6a6a" stroke-width="0.9"/>
<line x1="60.6" y1="90.8" x2="84.8" y2="95.6" stroke="#444" stroke-width="0.8"/>
<line x1="104.10" y1="28.12" x2="175.10" y2="150.88" stroke="#2f55a8" stroke-width="0.8"/>
<line x1="155.60" y1="41.11" x2="189.60" y2="99.89" stroke="#2f55a8" stroke-width="0.8"/>
<line x1="89.60" y1="79.11" x2="123.60" y2="137.89" stroke="#2f55a8" stroke-width="0.8"/>
<line x1="175.10" y1="28.12" x2="104.10" y2="150.88" stroke="#2f55a8" stroke-width="0.8"/>
<line x1="123.60" y1="41.11" x2="89.60" y2="99.89" stroke="#2f55a8" stroke-width="0.8"/>
<line x1="189.60" y1="79.11" x2="155.60" y2="137.89" stroke="#2f55a8" stroke-width="0.8"/>
<path d="M129.60,51.50 L111.60,41.11 L111.60,61.89Z" fill="none" stroke="#565218" stroke-width="2.1" stroke-linejoin="round"/>
<circle cx="129.60" cy="51.50" r="5.2" fill="url(#gball)"/>
<circle cx="111.60" cy="41.11" r="5.2" fill="url(#gball)"/>
<circle cx="111.60" cy="61.89" r="5.2" fill="url(#gball)"/>
<path d="M173.60,51.50 L155.60,41.11 L155.60,61.89Z" fill="none" stroke="#565218" stroke-width="2.1" stroke-linejoin="round"/>
<circle cx="173.60" cy="51.50" r="5.2" fill="url(#gball)"/>
<circle cx="155.60" cy="41.11" r="5.2" fill="url(#gball)"/>
<circle cx="155.60" cy="61.89" r="5.2" fill="url(#gball)"/>
<path d="M107.60,89.50 L89.60,79.11 L89.60,99.89Z" fill="none" stroke="#565218" stroke-width="2.1" stroke-linejoin="round"/>
<circle cx="107.60" cy="89.50" r="5.2" fill="url(#gball)"/>
<circle cx="89.60" cy="79.11" r="5.2" fill="url(#gball)"/>
<circle cx="89.60" cy="99.89" r="5.2" fill="url(#gball)"/>
<path d="M151.60,89.50 L133.60,79.11 L133.60,99.89Z" fill="none" stroke="#565218" stroke-width="2.1" stroke-linejoin="round"/>
<circle cx="151.60" cy="89.50" r="5.2" fill="url(#gball)"/>
<circle cx="133.60" cy="79.11" r="5.2" fill="url(#gball)"/>
<circle cx="133.60" cy="99.89" r="5.2" fill="url(#gball)"/>
<path d="M195.60,89.50 L177.60,79.11 L177.60,99.89Z" fill="none" stroke="#565218" stroke-width="2.1" stroke-linejoin="round"/>
<circle cx="195.60" cy="89.50" r="5.2" fill="url(#gball)"/>
<circle cx="177.60" cy="79.11" r="5.2" fill="url(#gball)"/>
<circle cx="177.60" cy="99.89" r="5.2" fill="url(#gball)"/>
<path d="M129.60,127.50 L111.60,117.11 L111.60,137.89Z" fill="none" stroke="#565218" stroke-width="2.1" stroke-linejoin="round"/>
<circle cx="129.60" cy="127.50" r="5.2" fill="url(#gball)"/>
<circle cx="111.60" cy="117.11" r="5.2" fill="url(#gball)"/>
<circle cx="111.60" cy="137.89" r="5.2" fill="url(#gball)"/>
<path d="M173.60,127.50 L155.60,117.11 L155.60,137.89Z" fill="none" stroke="#565218" stroke-width="2.1" stroke-linejoin="round"/>
<circle cx="173.60" cy="127.50" r="5.2" fill="url(#gball)"/>
<circle cx="155.60" cy="117.11" r="5.2" fill="url(#gball)"/>
<circle cx="155.60" cy="137.89" r="5.2" fill="url(#gball)"/>
<line x1="105.60" y1="51.50" x2="173.60" y2="51.50" stroke="#4060ac" stroke-width="0.85" opacity="0.85"/>
<line x1="70.60" y1="89.50" x2="208.60" y2="89.50" stroke="#4060ac" stroke-width="0.85" opacity="0.85"/>
<line x1="105.60" y1="127.50" x2="173.60" y2="127.50" stroke="#4060ac" stroke-width="0.85" opacity="0.85"/>
<line x1="104.10" y1="28.12" x2="175.10" y2="150.88" stroke="#3454a6" stroke-width="0.8" opacity="0.75"/>
<line x1="155.60" y1="41.11" x2="189.60" y2="99.89" stroke="#3454a6" stroke-width="0.8" opacity="0.75"/>
<line x1="89.60" y1="79.11" x2="123.60" y2="137.89" stroke="#3454a6" stroke-width="0.8" opacity="0.75"/>
<line x1="175.10" y1="28.12" x2="104.10" y2="150.88" stroke="#3454a6" stroke-width="0.8" opacity="0.75"/>
<line x1="123.60" y1="41.11" x2="89.60" y2="99.89" stroke="#3454a6" stroke-width="0.8" opacity="0.75"/>
<line x1="189.60" y1="79.11" x2="155.60" y2="137.89" stroke="#3454a6" stroke-width="0.8" opacity="0.75"/>
<circle cx="94.7" cy="89.2" r="12.2" fill="none" stroke="#2a4a9e" stroke-width="1.1" stroke-dasharray="3.4,2.1"/>
<circle cx="92.5" cy="157.9" r="4.9" fill="none" stroke="#1d3f98" stroke-width="1.5"/>
<circle cx="92.5" cy="157.9" r="1.8" fill="#1d3f98"/>
<line x1="97.6" y1="157.9" x2="117.5" y2="157.9" stroke="#1d3f98" stroke-width="1.4"/>
<path d="M123.2,157.9 L116.2,161.4 L117.6,157.9 L116.2,154.4Z" fill="#1d3f98"/>
<line x1="90.0" y1="153.4" x2="79.0" y2="135.4" stroke="#1d3f98" stroke-width="1.4"/>
<path d="M76.2,130.6 L82.8,134.9 L79.1,135.3 L77.0,138.5Z" fill="#1d3f98"/>
<text x="80" y="126.6" font-size="10.5" font-style="italic" text-anchor="middle" font-family="Liberation Sans, Arial, sans-serif" stroke="#000" stroke-width="0.2">b</text>
<text x="81" y="161.8" font-size="10.5" font-style="italic" text-anchor="middle" font-family="Liberation Sans, Arial, sans-serif" stroke="#000" stroke-width="0.2">c</text>
<text x="128.3" y="161.8" font-size="10.5" font-style="italic" text-anchor="middle" font-family="Liberation Sans, Arial, sans-serif" stroke="#000" stroke-width="0.2">a</text>
<text x="224.0" y="10.8" font-size="14.5" font-weight="bold" font-family="Liberation Sans, Arial, sans-serif" stroke="#000" stroke-width="0.2">b</text>
<line x1="310.7" y1="172" x2="310.7" y2="19.5" stroke="#111" stroke-width="1.15"/>
<path d="M310.7,15.8 L313,20.5 L308.4,20.5Z" fill="#111"/>
<text x="311.6" y="14.6" font-size="10.5" font-style="italic" text-anchor="middle" font-family="Liberation Sans, Arial, sans-serif" stroke="#000" stroke-width="0.2">E</text>
<polyline points="269.10,14.90 271.06,16.84 273.01,18.68 274.97,20.43 276.92,22.09 278.88,23.65 280.83,25.12 282.79,26.50 284.74,27.78 286.70,28.97 288.65,30.07 290.61,31.08 292.56,31.99 294.52,32.81 296.47,33.53 298.43,34.16 300.38,34.70 302.34,35.15 304.29,35.50 306.25,35.76 308.20,35.92 310.16,36.00 312.11,35.97 314.06,35.82 316.02,35.55 317.98,35.17 319.93,34.66 321.88,34.03 323.84,33.28 325.80,32.41 327.75,31.42 329.71,30.31 331.66,29.08 333.62,27.73 335.57,26.26 337.52,24.67 339.48,22.95 341.44,21.12 343.39,19.17 345.35,17.09 347.30,14.90" fill="none" stroke="#2626b8" stroke-width="1.2"/>
<polyline points="312.00,36.00 313.02,35.99 314.05,35.95 315.07,35.88 316.10,35.79 317.12,35.67 318.15,35.53 319.18,35.35 320.20,35.16 321.23,34.93 322.25,34.68 323.27,34.40 324.30,34.10 325.32,33.77 326.35,33.42 327.38,33.03 328.40,32.62 329.43,32.19 330.45,31.73 331.48,31.24 332.50,30.73 333.52,30.18 334.55,29.62 335.57,29.02 336.60,28.40 337.62,27.76 338.65,27.09 339.68,26.39 340.70,25.66 341.73,24.91 342.75,24.13 343.77,23.33 344.80,22.50 345.82,21.64 346.85,20.76 347.88,19.85 348.90,18.91 349.93,17.95 350.95,16.96 351.98,15.94 353.00,14.90" fill="none" stroke="#2626b8" stroke-width="1.2"/>
<text x="299.0" y="30.8" font-size="9.3" font-family="Liberation Sans, Arial, sans-serif" stroke="#000" stroke-width="0.2">H</text><text x="305.4" y="33.4" font-size="6.5" font-family="Liberation Sans, Arial, sans-serif" stroke="#000" stroke-width="0.2">6</text>
<line x1="310.7" y1="36.4" x2="343.4" y2="36.4" stroke="#444" stroke-width="1.4"/>
<line x1="340.2" y1="40" x2="340.2" y2="115.5" stroke="#111" stroke-width="1.15"/>
<path d="M340.2,36.6 L342.4,41.3 L338.0,41.3Z" fill="#111"/>
<path d="M340.2,119.6 L342.4,114.9 L338.0,114.9Z" fill="#111"/>
<text x="344.6" y="63.0" font-size="10.6" font-family="Liberation Sans, Arial, sans-serif" stroke="#000" stroke-width="0.2">0.33 eV</text>
<rect x="243.7" y="60.2" width="48.8" height="45" fill="#fff" stroke="#8a8a8a" stroke-width="0.9"/>
<line x1="249.3" y1="68.9" x2="284.7" y2="68.9" stroke="#555" stroke-width="1.4"/>
<rect x="259.2" y="60.8" width="6.4" height="7.4" fill="#fff"/>
<text x="262.4" y="68.0" font-size="9.3" text-anchor="middle" font-family="Liberation Sans, Arial, sans-serif" stroke="#000" stroke-width="0.2">H</text>
<line x1="262.5" y1="69" x2="262.5" y2="103.2" stroke="#111" stroke-width="1"/>
<path d="M255.7,102.4 C257,93 259,84.5 261.5,81.4 C263,79.9 264.6,79.6 266.2,78 C269,75 271.6,69.3 274.6,69.3 C278.2,69.5 281.6,85 283.6,101" fill="none" stroke="#2626b8" stroke-width="1.2"/>
<text x="264.0" y="88.6" font-size="9" font-family="Liberation Sans, Arial, sans-serif" stroke="#000" stroke-width="0.2">H</text><text x="270.3" y="90.6" font-size="6" font-family="Liberation Sans, Arial, sans-serif" stroke="#000" stroke-width="0.2">4</text>
<text x="350.7" y="102.9" font-size="10.5" font-family="Liberation Sans, Arial, sans-serif" stroke="#000" stroke-width="0.2"><tspan font-family="Liberation Serif, serif" font-style="italic">μ</tspan>(100 K)</text>
<line x1="258.3" y1="109.4" x2="361.6" y2="109.4" stroke="#888" stroke-width="0.9" stroke-dasharray="4.2,2.6"/>
<line x1="258.1" y1="119.3" x2="358.7" y2="119.3" stroke="#222" stroke-width="1.3"/>
<text x="363.9" y="122.8" font-size="10.5" font-family="Liberation Sans, Arial, sans-serif" stroke="#000" stroke-width="0.2"><tspan font-style="italic">E</tspan> = 0</text>
<path d="M260.4,151.6 C278,133 295,121.5 312,120.1 C325,119.2 340,119.2 345,121 C352,123 357,126 361,129" fill="none" stroke="#2626b8" stroke-width="1.2"/>
<text x="299.6" y="130.5" font-size="9.3" font-family="Liberation Sans, Arial, sans-serif" stroke="#000" stroke-width="0.2">H</text><text x="306.5" y="133.4" font-size="6.5" font-family="Liberation Sans, Arial, sans-serif" stroke="#000" stroke-width="0.2">4</text>
<path d="M272,172 Q291.3,152.8 310.6,152.8 Q323.3,152.8 336,172" fill="none" stroke="#2626b8" stroke-width="1.2"/>
<text x="299.6" y="162.8" font-size="9.3" font-family="Liberation Sans, Arial, sans-serif" stroke="#000" stroke-width="0.2">H</text><text x="306.5" y="166" font-size="6.5" font-family="Liberation Sans, Arial, sans-serif" stroke="#000" stroke-width="0.2">5</text>
<line x1="258.1" y1="172.1" x2="358" y2="172.1" stroke="#111" stroke-width="1.3"/>
<path d="M362.9,172.1 L356.8,174.8 L356.8,169.4Z" fill="#111"/>
<text x="367.4" y="173.8" font-size="11" font-style="italic" font-family="Liberation Sans, Arial, sans-serif" stroke="#000" stroke-width="0.2">k</text><text x="372.8" y="177.0" font-size="7.6" font-style="italic" font-family="Liberation Sans, Arial, sans-serif" stroke="#000" stroke-width="0.2">z</text>
<text x="310.6" y="181.1" font-size="10.5" text-anchor="middle" font-family="Liberation Sans, Arial, sans-serif" stroke="#000" stroke-width="0.2">0</text>
<text x="310.6" y="192.4" font-size="10.5" text-anchor="middle" font-family="Liberation Sans, Arial, sans-serif" stroke="#000" stroke-width="0.2">H</text>
<text x="239.9" y="192.4" font-size="10.5" font-family="Liberation Sans, Arial, sans-serif" stroke="#000" stroke-width="0.2">From A</text>
<text x="352.2" y="192.4" font-size="10.5" font-family="Liberation Sans, Arial, sans-serif" stroke="#000" stroke-width="0.2">to K</text>
<text x="446.8" y="11.4" font-size="14.5" font-weight="bold" font-family="Liberation Sans, Arial, sans-serif" stroke="#000" stroke-width="0.2">c</text>
<rect x="647.2" y="26.8" width="9.4" height="115.8" fill="url(#gcb)"/>
<line x1="655" y1="142.6" x2="656.6" y2="142.6" stroke="#222" stroke-width="0.6"/>
<line x1="655" y1="136.8" x2="656.6" y2="136.8" stroke="#222" stroke-width="0.6"/>
<line x1="655" y1="131.0" x2="656.6" y2="131.0" stroke="#222" stroke-width="0.6"/>
<line x1="655" y1="125.2" x2="656.6" y2="125.2" stroke="#222" stroke-width="0.6"/>
<line x1="655" y1="119.4" x2="656.6" y2="119.4" stroke="#222" stroke-width="0.6"/>
<line x1="655" y1="113.6" x2="656.6" y2="113.6" stroke="#222" stroke-width="0.6"/>
<line x1="655" y1="107.9" x2="656.6" y2="107.9" stroke="#222" stroke-width="0.6"/>
<line x1="655" y1="102.1" x2="656.6" y2="102.1" stroke="#222" stroke-width="0.6"/>
<line x1="655" y1="96.3" x2="656.6" y2="96.3" stroke="#222" stroke-width="0.6"/>
<line x1="655" y1="90.5" x2="656.6" y2="90.5" stroke="#222" stroke-width="0.6"/>
<line x1="655" y1="84.7" x2="656.6" y2="84.7" stroke="#222" stroke-width="0.6"/>
<line x1="655" y1="78.9" x2="656.6" y2="78.9" stroke="#222" stroke-width="0.6"/>
<line x1="655" y1="73.1" x2="656.6" y2="73.1" stroke="#222" stroke-width="0.6"/>
<line x1="655" y1="67.3" x2="656.6" y2="67.3" stroke="#222" stroke-width="0.6"/>
<line x1="655" y1="61.5" x2="656.6" y2="61.5" stroke="#222" stroke-width="0.6"/>
<line x1="655" y1="55.8" x2="656.6" y2="55.8" stroke="#222" stroke-width="0.6"/>
<line x1="655" y1="50.0" x2="656.6" y2="50.0" stroke="#222" stroke-width="0.6"/>
<line x1="655" y1="44.2" x2="656.6" y2="44.2" stroke="#222" stroke-width="0.6"/>
<line x1="655" y1="38.4" x2="656.6" y2="38.4" stroke="#222" stroke-width="0.6"/>
<line x1="655" y1="32.6" x2="656.6" y2="32.6" stroke="#222" stroke-width="0.6"/>
<line x1="655" y1="26.8" x2="656.6" y2="26.8" stroke="#222" stroke-width="0.6"/>
<text x="660.7" y="30.0" font-size="8" fill="#222" font-family="Liberation Sans, Arial, sans-serif" stroke="#222" stroke-width="0.2">0.010</text>
<text x="660.7" y="88.0" font-size="8" fill="#222" font-family="Liberation Sans, Arial, sans-serif" stroke="#222" stroke-width="0.2">0.005</text>
<text x="660.7" y="145.1" font-size="8" fill="#222" font-family="Liberation Sans, Arial, sans-serif" stroke="#222" stroke-width="0.2">0.000</text>
<text x="645.0" y="20.6" font-size="10.6" font-family="Liberation Sans, Arial, sans-serif" stroke="#000" stroke-width="0.2"><tspan font-style="italic">f</tspan>(<tspan font-weight="bold">k</tspan>)</text>
<line x1="539.3" y1="65.1" x2="539.3" y2="134.6" stroke="#333" stroke-width="1"/>
<line x1="547.7" y1="55.0" x2="547.7" y2="124.5" stroke="#8a8a8a" stroke-width="1"/>
<line x1="589.5" y1="51.1" x2="589.5" y2="120.6" stroke="#8a8a8a" stroke-width="1"/>
<line x1="621.7" y1="58.7" x2="621.7" y2="128.2" stroke="#333" stroke-width="1"/>
<line x1="612.4" y1="69.3" x2="612.4" y2="138.8" stroke="#333" stroke-width="1"/>
<line x1="571.2" y1="72.6" x2="571.2" y2="142.1" stroke="#777" stroke-width="1"/>
<path d="M539.3,65.1 L547.7,55.0 L589.5,51.1 L621.7,58.7 L612.4,69.3 L571.2,72.6Z" fill="none" stroke="#2a2a2a" stroke-width="0.8"/>
<path d="M539.3,134.6 L547.7,124.5 L589.5,120.6 L621.7,128.2 L612.4,138.8 L571.2,142.1Z" fill="none" stroke="#2a2a2a" stroke-width="0.8"/>
<path d="M539.3,99.9 L547.7,89.8 L589.5,85.9 L621.7,93.5 L612.4,104.1 L571.2,107.4Z" fill="none" stroke="#111" stroke-width="1.05"/>
<line x1="579" y1="38" x2="579" y2="130.3" stroke="#2878c0" stroke-width="1.2"/>
<path d="M579,31.6 L582.7,40.2 L579,39.0 L575.3,40.2Z" fill="#2878c0"/>
<line x1="526.4" y1="94.4" x2="629.5" y2="99.9" stroke="#2878c0" stroke-width="1.2"/>
<path d="M635.6,100.2 L628.2,103.2 L629.3,99.9 L628.6,96.5Z" fill="#2878c0"/>
<line x1="598" y1="73.4" x2="558.6" y2="123.3" stroke="#2878c0" stroke-width="1.2"/>
<path d="M554.5,128.4 L556.4,120.6 L558.0,123.4 L561.6,124.7Z" fill="#2878c0"/>
<text x="565.4" y="35.2" font-size="9.6" font-style="italic" fill="#2878c0" font-family="Liberation Sans, Arial, sans-serif" stroke="#2878c0" stroke-width="0.2">k</text><text x="570.4" y="37.8" font-size="7" font-style="italic" fill="#2878c0" font-family="Liberation Sans, Arial, sans-serif" stroke="#2878c0" stroke-width="0.2">z</text>
<text x="628.4" y="92.6" font-size="9.6" font-style="italic" fill="#2878c0" font-family="Liberation Sans, Arial, sans-serif" stroke="#2878c0" stroke-width="0.2">k</text><text x="633.4" y="95.6" font-size="7" font-style="italic" fill="#2878c0" font-family="Liberation Sans, Arial, sans-serif" stroke="#2878c0" stroke-width="0.2">y</text>
<text x="545.8" y="135.6" font-size="9.6" font-style="italic" fill="#2878c0" font-family="Liberation Sans, Arial, sans-serif" stroke="#2878c0" stroke-width="0.2">k</text><text x="550.8" y="138.4" font-size="7" font-style="italic" fill="#2878c0" font-family="Liberation Sans, Arial, sans-serif" stroke="#2878c0" stroke-width="0.2">x</text>
<circle cx="579" cy="63.3" r="2.1" fill="#7a5f1a"/>
<circle cx="571.2" cy="72.6" r="2.1" fill="#7a5f1a"/>
<circle cx="612.4" cy="69.3" r="2.1" fill="#7a5f1a"/>
<circle cx="579" cy="97.8" r="2.1" fill="#7a5f1a"/>
<circle cx="571.2" cy="107.4" r="2.1" fill="#7a5f1a"/>
<circle cx="612.4" cy="104.1" r="2.1" fill="#7a5f1a"/>
<circle cx="571.5" cy="141.8" r="2.1" fill="#7a5f1a"/>
<circle cx="613" cy="137.7" r="2.1" fill="#7a5f1a"/>
<text x="569.5" y="61.0" font-size="10" fill="#8a7232" font-family="Liberation Sans, Arial, sans-serif" stroke="#8a7232" stroke-width="0.2">A</text>
<text x="561.8" y="69.8" font-size="10" fill="#8a7232" font-family="Liberation Sans, Arial, sans-serif" stroke="#8a7232" stroke-width="0.2">H</text>
<text x="603.6" y="68.4" font-size="10" fill="#8a7232" font-family="Liberation Sans, Arial, sans-serif" stroke="#8a7232" stroke-width="0.2">H′</text>
<text x="581.6" y="105.6" font-size="10" fill="#8a7232" font-family="Liberation Sans, Arial, sans-serif" stroke="#8a7232" stroke-width="0.2">Γ</text>
<text x="557.5" y="114.3" font-size="10" fill="#8a7232" font-family="Liberation Sans, Arial, sans-serif" stroke="#8a7232" stroke-width="0.2">K</text>
<text x="603.8" y="117.4" font-size="10" fill="#8a7232" font-family="Liberation Sans, Arial, sans-serif" stroke="#8a7232" stroke-width="0.2">K′</text>
<text x="565.4" y="152.3" font-size="10" fill="#8a7232" font-family="Liberation Sans, Arial, sans-serif" stroke="#8a7232" stroke-width="0.2">H</text>
<text x="606.5" y="150.2" font-size="10" fill="#8a7232" font-family="Liberation Sans, Arial, sans-serif" stroke="#8a7232" stroke-width="0.2">H′</text>
<path d="M571.5,141.8 C578,143 587,150 589.5,160.9" fill="none" stroke="#555" stroke-width="0.9"/>
<path d="M613,137.7 C604,140 592,150 589.5,160.9" fill="none" stroke="#555" stroke-width="0.9"/>
<path d="M493.2,172.1 V161.2 H683.3 V172.1" fill="none" stroke="#555" stroke-width="0.9"/>
<text x="500.8" y="178.4" font-size="10.8" font-family="Liberation Sans, Arial, sans-serif" stroke="#000" stroke-width="0.2"><tspan font-style="italic">P</tspan>3<tspan font-size="7.6" dy="2.6">2</tspan><tspan dy="-2.6">21(</tspan><tspan font-style="italic">D</tspan><tspan font-size="7.6" dy="2.6">3</tspan><tspan font-size="7.6" dy="-7">6</tspan><tspan dy="4.4">)-type</tspan></text>
<text x="596.4" y="178.4" font-size="10.8" font-family="Liberation Sans, Arial, sans-serif" stroke="#000" stroke-width="0.2"><tspan font-style="italic">P</tspan>3<tspan font-size="7.6" dy="2.6">1</tspan><tspan dy="-2.6">21(</tspan><tspan font-style="italic">D</tspan><tspan font-size="7.6" dy="2.6">3</tspan><tspan font-size="7.6" dy="-7">4</tspan><tspan dy="4.4">)-type</tspan></text>
<g transform="translate(497.00,185.60)" clip-path="url(#clipP)"><use href="#fieldimg"/></g>
<g opacity="0.72"><line x1="509.25" y1="226.50" x2="509.25" y2="215.90" stroke="#c4c6da" stroke-width="0.9" stroke-opacity="1.0"/><path d="M509.25,209.30 L511.35,215.90 L507.15,215.90Z" fill="#c8cadc"/></g>
<g opacity="0.72"><line x1="509.25" y1="314.70" x2="509.25" y2="325.30" stroke="#c4c6da" stroke-width="0.9" stroke-opacity="1.0"/><path d="M509.25,331.90 L511.35,325.30 L507.15,325.30Z" fill="#c8cadc"/></g>
<g opacity="0.72"><line x1="509.25" y1="243.70" x2="509.25" y2="233.10" stroke="#c4c6da" stroke-width="0.9" stroke-opacity="1.0"/><path d="M509.25,226.50 L511.35,233.10 L507.15,233.10Z" fill="#c8cadc"/></g>
<g opacity="0.72"><line x1="509.25" y1="297.50" x2="509.25" y2="308.10" stroke="#c4c6da" stroke-width="0.9" stroke-opacity="1.0"/><path d="M509.25,314.70 L511.35,308.10 L507.15,308.10Z" fill="#c8cadc"/></g>
<g opacity="0.68"><line x1="509.25" y1="260.90" x2="509.25" y2="250.30" stroke="#c4c6da" stroke-width="0.9" stroke-opacity="0.55"/><path d="M509.25,243.70 L511.35,250.30 L507.15,250.30Z" fill="#c8cadc"/></g>
<g opacity="0.68"><line x1="509.25" y1="280.30" x2="509.25" y2="290.90" stroke="#c4c6da" stroke-width="0.9" stroke-opacity="0.55"/><path d="M509.25,297.50 L511.35,290.90 L507.15,290.90Z" fill="#c8cadc"/></g>
<g opacity="0.26"><line x1="509.25" y1="269.40" x2="509.25" y2="267.50" stroke="#c4c6da" stroke-width="0.9" stroke-opacity="0.6"/><path d="M509.25,260.90 L511.35,267.50 L507.15,267.50Z" fill="#c8cadc"/></g>
<g opacity="0.26"><line x1="509.25" y1="271.80" x2="509.25" y2="273.70" stroke="#c4c6da" stroke-width="0.9" stroke-opacity="0.6"/><path d="M509.25,280.30 L511.35,273.70 L507.15,273.70Z" fill="#c8cadc"/></g>
<g opacity="0.72"><line x1="521.40" y1="209.30" x2="521.40" y2="198.70" stroke="#c4c6da" stroke-width="0.9" stroke-opacity="1.0"/><path d="M521.40,192.10 L523.50,198.70 L519.30,198.70Z" fill="#c8cadc"/></g>
<g opacity="0.72"><line x1="521.40" y1="331.90" x2="521.40" y2="342.50" stroke="#c4c6da" stroke-width="0.9" stroke-opacity="1.0"/><path d="M521.40,349.10 L523.50,342.50 L519.30,342.50Z" fill="#c8cadc"/></g>
<g opacity="0.72"><line x1="521.40" y1="226.50" x2="521.40" y2="215.90" stroke="#c4c6da" stroke-width="0.9" stroke-opacity="1.0"/><path d="M521.40,209.30 L523.50,215.90 L519.30,215.90Z" fill="#c8cadc"/></g>
<g opacity="0.72"><line x1="521.40" y1="314.70" x2="521.40" y2="325.30" stroke="#c4c6da" stroke-width="0.9" stroke-opacity="1.0"/><path d="M521.40,331.90 L523.50,325.30 L519.30,325.30Z" fill="#c8cadc"/></g>
<g opacity="0.72"><line x1="521.40" y1="243.70" x2="521.40" y2="233.10" stroke="#c4c6da" stroke-width="0.9" stroke-opacity="1.0"/><path d="M521.40,226.50 L523.50,233.10 L519.30,233.10Z" fill="#c8cadc"/></g>
<g opacity="0.72"><line x1="521.40" y1="297.50" x2="521.40" y2="308.10" stroke="#c4c6da" stroke-width="0.9" stroke-opacity="1.0"/><path d="M521.40,314.70 L523.50,308.10 L519.30,308.10Z" fill="#c8cadc"/></g>
<g opacity="0.68"><line x1="521.40" y1="260.90" x2="521.40" y2="250.30" stroke="#c4c6da" stroke-width="0.9" stroke-opacity="0.55"/><path d="M521.40,243.70 L523.50,250.30 L519.30,250.30Z" fill="#c8cadc"/></g>
<g opacity="0.68"><line x1="521.40" y1="280.30" x2="521.40" y2="290.90" stroke="#c4c6da" stroke-width="0.9" stroke-opacity="0.55"/><path d="M521.40,297.50 L523.50,290.90 L519.30,290.90Z" fill="#c8cadc"/></g>
<g opacity="0.26"><line x1="521.40" y1="269.40" x2="521.40" y2="267.50" stroke="#c4c6da" stroke-width="0.9" stroke-opacity="0.6"/><path d="M521.40,260.90 L523.50,267.50 L519.30,267.50Z" fill="#c8cadc"/></g>
<g opacity="0.26"><line x1="521.40" y1="271.80" x2="521.40" y2="273.70" stroke="#c4c6da" stroke-width="0.9" stroke-opacity="0.6"/><path d="M521.40,280.30 L523.50,273.70 L519.30,273.70Z" fill="#c8cadc"/></g>
<g opacity="0.72"><line x1="533.55" y1="209.30" x2="533.55" y2="198.70" stroke="#c4c6da" stroke-width="0.9" stroke-opacity="1.0"/><path d="M533.55,192.10 L535.65,198.70 L531.45,198.70Z" fill="#c8cadc"/></g>
<g opacity="0.72"><line x1="533.55" y1="331.90" x2="533.55" y2="342.50" stroke="#c4c6da" stroke-width="0.9" stroke-opacity="1.0"/><path d="M533.55,349.10 L535.65,342.50 L531.45,342.50Z" fill="#c8cadc"/></g>
<g opacity="0.72"><line x1="533.55" y1="226.50" x2="533.55" y2="215.90" stroke="#c4c6da" stroke-width="0.9" stroke-opacity="1.0"/><path d="M533.55,209.30 L535.65,215.90 L531.45,215.90Z" fill="#c8cadc"/></g>
<g opacity="0.72"><line x1="533.55" y1="314.70" x2="533.55" y2="325.30" stroke="#c4c6da" stroke-width="0.9" stroke-opacity="1.0"/><path d="M533.55,331.90 L535.65,325.30 L531.45,325.30Z" fill="#c8cadc"/></g>
<g opacity="0.36"><line x1="533.55" y1="243.70" x2="533.55" y2="233.10" stroke="#c4c6da" stroke-width="0.9" stroke-opacity="1.0"/><path d="M533.55,226.50 L535.65,233.10 L531.45,233.10Z" fill="#c8cadc"/></g>
<g opacity="0.36"><line x1="533.55" y1="297.50" x2="533.55" y2="308.10" stroke="#c4c6da" stroke-width="0.9" stroke-opacity="1.0"/><path d="M533.55,314.70 L535.65,308.10 L531.45,308.10Z" fill="#c8cadc"/></g>
<g opacity="0.34"><line x1="533.55" y1="260.90" x2="533.55" y2="250.30" stroke="#c4c6da" stroke-width="0.9" stroke-opacity="0.55"/><path d="M533.55,243.70 L535.65,250.30 L531.45,250.30Z" fill="#c8cadc"/></g>
<g opacity="0.34"><line x1="533.55" y1="280.30" x2="533.55" y2="290.90" stroke="#c4c6da" stroke-width="0.9" stroke-opacity="0.55"/><path d="M533.55,297.50 L535.65,290.90 L531.45,290.90Z" fill="#c8cadc"/></g>
<g opacity="0.13"><line x1="533.55" y1="269.40" x2="533.55" y2="267.50" stroke="#c4c6da" stroke-width="0.9" stroke-opacity="0.6"/><path d="M533.55,260.90 L535.65,267.50 L531.45,267.50Z" fill="#c8cadc"/></g>
<g opacity="0.13"><line x1="533.55" y1="271.80" x2="533.55" y2="273.70" stroke="#c4c6da" stroke-width="0.9" stroke-opacity="0.6"/><path d="M533.55,280.30 L535.65,273.70 L531.45,273.70Z" fill="#c8cadc"/></g>
<g opacity="0.72"><line x1="545.75" y1="209.30" x2="545.75" y2="198.70" stroke="#c4c6da" stroke-width="0.9" stroke-opacity="1.0"/><path d="M545.75,192.10 L547.85,198.70 L543.65,198.70Z" fill="#c8cadc"/></g>
<g opacity="0.72"><line x1="545.75" y1="331.90" x2="545.75" y2="342.50" stroke="#c4c6da" stroke-width="0.9" stroke-opacity="1.0"/><path d="M545.75,349.10 L547.85,342.50 L543.65,342.50Z" fill="#c8cadc"/></g>
<g opacity="0.72"><line x1="545.75" y1="226.50" x2="545.75" y2="215.90" stroke="#c4c6da" stroke-width="0.9" stroke-opacity="1.0"/><path d="M545.75,209.30 L547.85,215.90 L543.65,215.90Z" fill="#c8cadc"/></g>
<g opacity="0.72"><line x1="545.75" y1="314.70" x2="545.75" y2="325.30" stroke="#c4c6da" stroke-width="0.9" stroke-opacity="1.0"/><path d="M545.75,331.90 L547.85,325.30 L543.65,325.30Z" fill="#c8cadc"/></g>
<g opacity="0.36"><line x1="545.75" y1="243.70" x2="545.75" y2="233.10" stroke="#c4c6da" stroke-width="0.9" stroke-opacity="1.0"/><path d="M545.75,226.50 L547.85,233.10 L543.65,233.10Z" fill="#c8cadc"/></g>
<g opacity="0.36"><line x1="545.75" y1="297.50" x2="545.75" y2="308.10" stroke="#c4c6da" stroke-width="0.9" stroke-opacity="1.0"/><path d="M545.75,314.70 L547.85,308.10 L543.65,308.10Z" fill="#c8cadc"/></g>
<g opacity="0.34"><line x1="545.75" y1="260.90" x2="545.75" y2="250.30" stroke="#c4c6da" stroke-width="0.9" stroke-opacity="0.55"/><path d="M545.75,243.70 L547.85,250.30 L543.65,250.30Z" fill="#c8cadc"/></g>
<g opacity="0.34"><line x1="545.75" y1="280.30" x2="545.75" y2="290.90" stroke="#c4c6da" stroke-width="0.9" stroke-opacity="0.55"/><path d="M545.75,297.50 L547.85,290.90 L543.65,290.90Z" fill="#c8cadc"/></g>
<g opacity="0.13"><line x1="545.75" y1="269.40" x2="545.75" y2="267.50" stroke="#c4c6da" stroke-width="0.9" stroke-opacity="0.6"/><path d="M545.75,260.90 L547.85,267.50 L543.65,267.50Z" fill="#c8cadc"/></g>
<g opacity="0.13"><line x1="545.75" y1="271.80" x2="545.75" y2="273.70" stroke="#c4c6da" stroke-width="0.9" stroke-opacity="0.6"/><path d="M545.75,280.30 L547.85,273.70 L543.65,273.70Z" fill="#c8cadc"/></g>
<g opacity="0.72"><line x1="557.90" y1="209.30" x2="557.90" y2="198.70" stroke="#c4c6da" stroke-width="0.9" stroke-opacity="1.0"/><path d="M557.90,192.10 L560.00,198.70 L555.80,198.70Z" fill="#c8cadc"/></g>
<g opacity="0.72"><line x1="557.90" y1="331.90" x2="557.90" y2="342.50" stroke="#c4c6da" stroke-width="0.9" stroke-opacity="1.0"/><path d="M557.90,349.10 L560.00,342.50 L555.80,342.50Z" fill="#c8cadc"/></g>
<g opacity="0.72"><line x1="557.90" y1="226.50" x2="557.90" y2="215.90" stroke="#c4c6da" stroke-width="0.9" stroke-opacity="1.0"/><path d="M557.90,209.30 L560.00,215.90 L555.80,215.90Z" fill="#c8cadc"/></g>
<g opacity="0.72"><line x1="557.90" y1="314.70" x2="557.90" y2="325.30" stroke="#c4c6da" stroke-width="0.9" stroke-opacity="1.0"/><path d="M557.90,331.90 L560.00,325.30 L555.80,325.30Z" fill="#c8cadc"/></g>
<g opacity="0.72"><line x1="557.90" y1="243.70" x2="557.90" y2="233.10" stroke="#c4c6da" stroke-width="0.9" stroke-opacity="1.0"/><path d="M557.90,226.50 L560.00,233.10 L555.80,233.10Z" fill="#c8cadc"/></g>
<g opacity="0.72"><line x1="557.90" y1="297.50" x2="557.90" y2="308.10" stroke="#c4c6da" stroke-width="0.9" stroke-opacity="1.0"/><path d="M557.90,314.70 L560.00,308.10 L555.80,308.10Z" fill="#c8cadc"/></g>
<g opacity="0.68"><line x1="557.90" y1="260.90" x2="557.90" y2="250.30" stroke="#c4c6da" stroke-width="0.9" stroke-opacity="0.55"/><path d="M557.90,243.70 L560.00,250.30 L555.80,250.30Z" fill="#c8cadc"/></g>
<g opacity="0.68"><line x1="557.90" y1="280.30" x2="557.90" y2="290.90" stroke="#c4c6da" stroke-width="0.9" stroke-opacity="0.55"/><path d="M557.90,297.50 L560.00,290.90 L555.80,290.90Z" fill="#c8cadc"/></g>
<g opacity="0.26"><line x1="557.90" y1="269.40" x2="557.90" y2="267.50" stroke="#c4c6da" stroke-width="0.9" stroke-opacity="0.6"/><path d="M557.90,260.90 L560.00,267.50 L555.80,267.50Z" fill="#c8cadc"/></g>
<g opacity="0.26"><line x1="557.90" y1="271.80" x2="557.90" y2="273.70" stroke="#c4c6da" stroke-width="0.9" stroke-opacity="0.6"/><path d="M557.90,280.30 L560.00,273.70 L555.80,273.70Z" fill="#c8cadc"/></g>
<g opacity="0.72"><line x1="570.05" y1="226.50" x2="570.05" y2="215.90" stroke="#c4c6da" stroke-width="0.9" stroke-opacity="1.0"/><path d="M570.05,209.30 L572.15,215.90 L567.95,215.90Z" fill="#c8cadc"/></g>
<g opacity="0.72"><line x1="570.05" y1="314.70" x2="570.05" y2="325.30" stroke="#c4c6da" stroke-width="0.9" stroke-opacity="1.0"/><path d="M570.05,331.90 L572.15,325.30 L567.95,325.30Z" fill="#c8cadc"/></g>
<g opacity="0.72"><line x1="570.05" y1="243.70" x2="570.05" y2="233.10" stroke="#c4c6da" stroke-width="0.9" stroke-opacity="1.0"/><path d="M570.05,226.50 L572.15,233.10 L567.95,233.10Z" fill="#c8cadc"/></g>
<g opacity="0.72"><line x1="570.05" y1="297.50" x2="570.05" y2="308.10" stroke="#c4c6da" stroke-width="0.9" stroke-opacity="1.0"/><path d="M570.05,314.70 L572.15,308.10 L567.95,308.10Z" fill="#c8cadc"/></g>
<g opacity="0.68"><line x1="570.05" y1="260.90" x2="570.05" y2="250.30" stroke="#c4c6da" stroke-width="0.9" stroke-opacity="0.55"/><path d="M570.05,243.70 L572.15,250.30 L567.95,250.30Z" fill="#c8cadc"/></g>
<g opacity="0.68"><line x1="570.05" y1="280.30" x2="570.05" y2="290.90" stroke="#c4c6da" stroke-width="0.9" stroke-opacity="0.55"/><path d="M570.05,297.50 L572.15,290.90 L567.95,290.90Z" fill="#c8cadc"/></g>
<g opacity="0.26"><line x1="570.05" y1="269.40" x2="570.05" y2="267.50" stroke="#c4c6da" stroke-width="0.9" stroke-opacity="0.6"/><path d="M570.05,260.90 L572.15,267.50 L567.95,267.50Z" fill="#c8cadc"/></g>
<g opacity="0.26"><line x1="570.05" y1="271.80" x2="570.05" y2="273.70" stroke="#c4c6da" stroke-width="0.9" stroke-opacity="0.6"/><path d="M570.05,280.30 L572.15,273.70 L567.95,273.70Z" fill="#c8cadc"/></g>
<line x1="510.9" y1="185.6" x2="510.9" y2="187.6" stroke="#ddd" stroke-width="0.7"/>
<line x1="510.9" y1="355.8" x2="510.9" y2="353.8" stroke="#ddd" stroke-width="0.7"/>
<line x1="539.6" y1="185.6" x2="539.6" y2="187.6" stroke="#ddd" stroke-width="0.7"/>
<line x1="539.6" y1="355.8" x2="539.6" y2="353.8" stroke="#ddd" stroke-width="0.7"/>
<line x1="568.4" y1="185.6" x2="568.4" y2="187.6" stroke="#ddd" stroke-width="0.7"/>
<line x1="568.4" y1="355.8" x2="568.4" y2="353.8" stroke="#ddd" stroke-width="0.7"/>
<line x1="497.0" y1="213.4" x2="499.0" y2="213.4" stroke="#ddd" stroke-width="0.7"/>
<line x1="582.3" y1="213.4" x2="580.3" y2="213.4" stroke="#ddd" stroke-width="0.7"/>
<line x1="497.0" y1="242.0" x2="499.0" y2="242.0" stroke="#ddd" stroke-width="0.7"/>
<line x1="582.3" y1="242.0" x2="580.3" y2="242.0" stroke="#ddd" stroke-width="0.7"/>
<line x1="497.0" y1="270.6" x2="499.0" y2="270.6" stroke="#ddd" stroke-width="0.7"/>
<line x1="582.3" y1="270.6" x2="580.3" y2="270.6" stroke="#ddd" stroke-width="0.7"/>
<line x1="497.0" y1="299.2" x2="499.0" y2="299.2" stroke="#ddd" stroke-width="0.7"/>
<line x1="582.3" y1="299.2" x2="580.3" y2="299.2" stroke="#ddd" stroke-width="0.7"/>
<line x1="497.0" y1="327.8" x2="499.0" y2="327.8" stroke="#ddd" stroke-width="0.7"/>
<line x1="582.3" y1="327.8" x2="580.3" y2="327.8" stroke="#ddd" stroke-width="0.7"/>
<text x="538.4" y="273.9" font-size="9.4" fill="#fff" font-family="Liberation Sans, Arial, sans-serif" stroke="#fff" stroke-width="0.2">H (H′)</text>
<text x="511.3" y="368.9" font-size="10.3" text-anchor="middle" font-family="Liberation Sans, Arial, sans-serif" stroke="#000" stroke-width="0.2">−0.02</text>
<text x="539.9" y="368.9" font-size="10.3" text-anchor="middle" font-family="Liberation Sans, Arial, sans-serif" stroke="#000" stroke-width="0.2">0</text>
<text x="568.6" y="368.9" font-size="10.3" text-anchor="middle" font-family="Liberation Sans, Arial, sans-serif" stroke="#000" stroke-width="0.2">0.02</text>
<text x="524.3" y="385.7" font-size="10.3" font-family="Liberation Sans, Arial, sans-serif" stroke="#000" stroke-width="0.2"><tspan font-style="italic">k</tspan><tspan font-size="7" font-style="italic" dy="2.6">x</tspan><tspan dy="-2.6"> [Å</tspan><tspan font-size="7" dy="-4">−1</tspan><tspan dy="4">]</tspan></text>
<g transform="translate(592.50,185.60)" clip-path="url(#clipP)"><use href="#fieldimg"/></g>
<g opacity="0.72"><line x1="604.75" y1="209.30" x2="604.75" y2="219.90" stroke="#c4c6da" stroke-width="0.9" stroke-opacity="1.0"/><path d="M604.75,226.50 L606.85,219.90 L602.65,219.90Z" fill="#c8cadc"/></g>
<g opacity="0.72"><line x1="604.75" y1="331.90" x2="604.75" y2="321.30" stroke="#c4c6da" stroke-width="0.9" stroke-opacity="1.0"/><path d="M604.75,314.70 L606.85,321.30 L602.65,321.30Z" fill="#c8cadc"/></g>
<g opacity="0.72"><line x1="604.75" y1="226.50" x2="604.75" y2="237.10" stroke="#c4c6da" stroke-width="0.9" stroke-opacity="1.0"/><path d="M604.75,243.70 L606.85,237.10 L602.65,237.10Z" fill="#c8cadc"/></g>
<g opacity="0.72"><line x1="604.75" y1="314.70" x2="604.75" y2="304.10" stroke="#c4c6da" stroke-width="0.9" stroke-opacity="1.0"/><path d="M604.75,297.50 L606.85,304.10 L602.65,304.10Z" fill="#c8cadc"/></g>
<g opacity="0.68"><line x1="604.75" y1="243.70" x2="604.75" y2="254.30" stroke="#c4c6da" stroke-width="0.9" stroke-opacity="0.55"/><path d="M604.75,260.90 L606.85,254.30 L602.65,254.30Z" fill="#c8cadc"/></g>
<g opacity="0.68"><line x1="604.75" y1="297.50" x2="604.75" y2="286.90" stroke="#c4c6da" stroke-width="0.9" stroke-opacity="0.55"/><path d="M604.75,280.30 L606.85,286.90 L602.65,286.90Z" fill="#c8cadc"/></g>
<g opacity="0.26"><line x1="604.75" y1="260.90" x2="604.75" y2="262.80" stroke="#c4c6da" stroke-width="0.9" stroke-opacity="0.6"/><path d="M604.75,269.40 L606.85,262.80 L602.65,262.80Z" fill="#c8cadc"/></g>
<g opacity="0.26"><line x1="604.75" y1="280.30" x2="604.75" y2="278.40" stroke="#c4c6da" stroke-width="0.9" stroke-opacity="0.6"/><path d="M604.75,271.80 L606.85,278.40 L602.65,278.40Z" fill="#c8cadc"/></g>
<g opacity="0.72"><line x1="616.90" y1="192.10" x2="616.90" y2="202.70" stroke="#c4c6da" stroke-width="0.9" stroke-opacity="1.0"/><path d="M616.90,209.30 L619.00,202.70 L614.80,202.70Z" fill="#c8cadc"/></g>
<g opacity="0.72"><line x1="616.90" y1="349.10" x2="616.90" y2="338.50" stroke="#c4c6da" stroke-width="0.9" stroke-opacity="1.0"/><path d="M616.90,331.90 L619.00,338.50 L614.80,338.50Z" fill="#c8cadc"/></g>
<g opacity="0.72"><line x1="616.90" y1="209.30" x2="616.90" y2="219.90" stroke="#c4c6da" stroke-width="0.9" stroke-opacity="1.0"/><path d="M616.90,226.50 L619.00,219.90 L614.80,219.90Z" fill="#c8cadc"/></g>
<g opacity="0.72"><line x1="616.90" y1="331.90" x2="616.90" y2="321.30" stroke="#c4c6da" stroke-width="0.9" stroke-opacity="1.0"/><path d="M616.90,314.70 L619.00,321.30 L614.80,321.30Z" fill="#c8cadc"/></g>
<g opacity="0.72"><line x1="616.90" y1="226.50" x2="616.90" y2="237.10" stroke="#c4c6da" stroke-width="0.9" stroke-opacity="1.0"/><path d="M616.90,243.70 L619.00,237.10 L614.80,237.10Z" fill="#c8cadc"/></g>
<g opacity="0.72"><line x1="616.90" y1="314.70" x2="616.90" y2="304.10" stroke="#c4c6da" stroke-width="0.9" stroke-opacity="1.0"/><path d="M616.90,297.50 L619.00,304.10 L614.80,304.10Z" fill="#c8cadc"/></g>
<g opacity="0.68"><line x1="616.90" y1="243.70" x2="616.90" y2="254.30" stroke="#c4c6da" stroke-width="0.9" stroke-opacity="0.55"/><path d="M616.90,260.90 L619.00,254.30 L614.80,254.30Z" fill="#c8cadc"/></g>
<g opacity="0.68"><line x1="616.90" y1="297.50" x2="616.90" y2="286.90" stroke="#c4c6da" stroke-width="0.9" stroke-opacity="0.55"/><path d="M616.90,280.30 L619.00,286.90 L614.80,286.90Z" fill="#c8cadc"/></g>
<g opacity="0.26"><line x1="616.90" y1="260.90" x2="616.90" y2="262.80" stroke="#c4c6da" stroke-width="0.9" stroke-opacity="0.6"/><path d="M616.90,269.40 L619.00,262.80 L614.80,262.80Z" fill="#c8cadc"/></g>
<g opacity="0.26"><line x1="616.90" y1="280.30" x2="616.90" y2="278.40" stroke="#c4c6da" stroke-width="0.9" stroke-opacity="0.6"/><path d="M616.90,271.80 L619.00,278.40 L614.80,278.40Z" fill="#c8cadc"/></g>
<g opacity="0.72"><line x1="629.05" y1="192.10" x2="629.05" y2="202.70" stroke="#c4c6da" stroke-width="0.9" stroke-opacity="1.0"/><path d="M629.05,209.30 L631.15,202.70 L626.95,202.70Z" fill="#c8cadc"/></g>
<g opacity="0.72"><line x1="629.05" y1="349.10" x2="629.05" y2="338.50" stroke="#c4c6da" stroke-width="0.9" stroke-opacity="1.0"/><path d="M629.05,331.90 L631.15,338.50 L626.95,338.50Z" fill="#c8cadc"/></g>
<g opacity="0.72"><line x1="629.05" y1="209.30" x2="629.05" y2="219.90" stroke="#c4c6da" stroke-width="0.9" stroke-opacity="1.0"/><path d="M629.05,226.50 L631.15,219.90 L626.95,219.90Z" fill="#c8cadc"/></g>
<g opacity="0.72"><line x1="629.05" y1="331.90" x2="629.05" y2="321.30" stroke="#c4c6da" stroke-width="0.9" stroke-opacity="1.0"/><path d="M629.05,314.70 L631.15,321.30 L626.95,321.30Z" fill="#c8cadc"/></g>
<g opacity="0.36"><line x1="629.05" y1="226.50" x2="629.05" y2="237.10" stroke="#c4c6da" stroke-width="0.9" stroke-opacity="1.0"/><path d="M629.05,243.70 L631.15,237.10 L626.95,237.10Z" fill="#c8cadc"/></g>
<g opacity="0.36"><line x1="629.05" y1="314.70" x2="629.05" y2="304.10" stroke="#c4c6da" stroke-width="0.9" stroke-opacity="1.0"/><path d="M629.05,297.50 L631.15,304.10 L626.95,304.10Z" fill="#c8cadc"/></g>
<g opacity="0.34"><line x1="629.05" y1="243.70" x2="629.05" y2="254.30" stroke="#c4c6da" stroke-width="0.9" stroke-opacity="0.55"/><path d="M629.05,260.90 L631.15,254.30 L626.95,254.30Z" fill="#c8cadc"/></g>
<g opacity="0.34"><line x1="629.05" y1="297.50" x2="629.05" y2="286.90" stroke="#c4c6da" stroke-width="0.9" stroke-opacity="0.55"/><path d="M629.05,280.30 L631.15,286.90 L626.95,286.90Z" fill="#c8cadc"/></g>
<g opacity="0.13"><line x1="629.05" y1="260.90" x2="629.05" y2="262.80" stroke="#c4c6da" stroke-width="0.9" stroke-opacity="0.6"/><path d="M629.05,269.40 L631.15,262.80 L626.95,262.80Z" fill="#c8cadc"/></g>
<g opacity="0.13"><line x1="629.05" y1="280.30" x2="629.05" y2="278.40" stroke="#c4c6da" stroke-width="0.9" stroke-opacity="0.6"/><path d="M629.05,271.80 L631.15,278.40 L626.95,278.40Z" fill="#c8cadc"/></g>
<g opacity="0.72"><line x1="641.25" y1="192.10" x2="641.25" y2="202.70" stroke="#c4c6da" stroke-width="0.9" stroke-opacity="1.0"/><path d="M641.25,209.30 L643.35,202.70 L639.15,202.70Z" fill="#c8cadc"/></g>
<g opacity="0.72"><line x1="641.25" y1="349.10" x2="641.25" y2="338.50" stroke="#c4c6da" stroke-width="0.9" stroke-opacity="1.0"/><path d="M641.25,331.90 L643.35,338.50 L639.15,338.50Z" fill="#c8cadc"/></g>
<g opacity="0.72"><line x1="641.25" y1="209.30" x2="641.25" y2="219.90" stroke="#c4c6da" stroke-width="0.9" stroke-opacity="1.0"/><path d="M641.25,226.50 L643.35,219.90 L639.15,219.90Z" fill="#c8cadc"/></g>
<g opacity="0.72"><line x1="641.25" y1="331.90" x2="641.25" y2="321.30" stroke="#c4c6da" stroke-width="0.9" stroke-opacity="1.0"/><path d="M641.25,314.70 L643.35,321.30 L639.15,321.30Z" fill="#c8cadc"/></g>
<g opacity="0.36"><line x1="641.25" y1="226.50" x2="641.25" y2="237.10" stroke="#c4c6da" stroke-width="0.9" stroke-opacity="1.0"/><path d="M641.25,243.70 L643.35,237.10 L639.15,237.10Z" fill="#c8cadc"/></g>
<g opacity="0.36"><line x1="641.25" y1="314.70" x2="641.25" y2="304.10" stroke="#c4c6da" stroke-width="0.9" stroke-opacity="1.0"/><path d="M641.25,297.50 L643.35,304.10 L639.15,304.10Z" fill="#c8cadc"/></g>
<g opacity="0.34"><line x1="641.25" y1="243.70" x2="641.25" y2="254.30" stroke="#c4c6da" stroke-width="0.9" stroke-opacity="0.55"/><path d="M641.25,260.90 L643.35,254.30 L639.15,254.30Z" fill="#c8cadc"/></g>
<g opacity="0.34"><line x1="641.25" y1="297.50" x2="641.25" y2="286.90" stroke="#c4c6da" stroke-width="0.9" stroke-opacity="0.55"/><path d="M641.25,280.30 L643.35,286.90 L639.15,286.90Z" fill="#c8cadc"/></g>
<g opacity="0.13"><line x1="641.25" y1="260.90" x2="641.25" y2="262.80" stroke="#c4c6da" stroke-width="0.9" stroke-opacity="0.6"/><path d="M641.25,269.40 L643.35,262.80 L639.15,262.80Z" fill="#c8cadc"/></g>
<g opacity="0.13"><line x1="641.25" y1="280.30" x2="641.25" y2="278.40" stroke="#c4c6da" stroke-width="0.9" stroke-opacity="0.6"/><path d="M641.25,271.80 L643.35,278.40 L639.15,278.40Z" fill="#c8cadc"/></g>
<g opacity="0.72"><line x1="653.40" y1="192.10" x2="653.40" y2="202.70" stroke="#c4c6da" stroke-width="0.9" stroke-opacity="1.0"/><path d="M653.40,209.30 L655.50,202.70 L651.30,202.70Z" fill="#c8cadc"/></g>
<g opacity="0.72"><line x1="653.40" y1="349.10" x2="653.40" y2="338.50" stroke="#c4c6da" stroke-width="0.9" stroke-opacity="1.0"/><path d="M653.40,331.90 L655.50,338.50 L651.30,338.50Z" fill="#c8cadc"/></g>
<g opacity="0.72"><line x1="653.40" y1="209.30" x2="653.40" y2="219.90" stroke="#c4c6da" stroke-width="0.9" stroke-opacity="1.0"/><path d="M653.40,226.50 L655.50,219.90 L651.30,219.90Z" fill="#c8cadc"/></g>
<g opacity="0.72"><line x1="653.40" y1="331.90" x2="653.40" y2="321.30" stroke="#c4c6da" stroke-width="0.9" stroke-opacity="1.0"/><path d="M653.40,314.70 L655.50,321.30 L651.30,321.30Z" fill="#c8cadc"/></g>
<g opacity="0.72"><line x1="653.40" y1="226.50" x2="653.40" y2="237.10" stroke="#c4c6da" stroke-width="0.9" stroke-opacity="1.0"/><path d="M653.40,243.70 L655.50,237.10 L651.30,237.10Z" fill="#c8cadc"/></g>
<g opacity="0.72"><line x1="653.40" y1="314.70" x2="653.40" y2="304.10" stroke="#c4c6da" stroke-width="0.9" stroke-opacity="1.0"/><path d="M653.40,297.50 L655.50,304.10 L651.30,304.10Z" fill="#c8cadc"/></g>
<g opacity="0.68"><line x1="653.40" y1="243.70" x2="653.40" y2="254.30" stroke="#c4c6da" stroke-width="0.9" stroke-opacity="0.55"/><path d="M653.40,260.90 L655.50,254.30 L651.30,254.30Z" fill="#c8cadc"/></g>
<g opacity="0.68"><line x1="653.40" y1="297.50" x2="653.40" y2="286.90" stroke="#c4c6da" stroke-width="0.9" stroke-opacity="0.55"/><path d="M653.40,280.30 L655.50,286.90 L651.30,286.90Z" fill="#c8cadc"/></g>
<g opacity="0.26"><line x1="653.40" y1="260.90" x2="653.40" y2="262.80" stroke="#c4c6da" stroke-width="0.9" stroke-opacity="0.6"/><path d="M653.40,269.40 L655.50,262.80 L651.30,262.80Z" fill="#c8cadc"/></g>
<g opacity="0.26"><line x1="653.40" y1="280.30" x2="653.40" y2="278.40" stroke="#c4c6da" stroke-width="0.9" stroke-opacity="0.6"/><path d="M653.40,271.80 L655.50,278.40 L651.30,278.40Z" fill="#c8cadc"/></g>
<g opacity="0.72"><line x1="665.55" y1="209.30" x2="665.55" y2="219.90" stroke="#c4c6da" stroke-width="0.9" stroke-opacity="1.0"/><path d="M665.55,226.50 L667.65,219.90 L663.45,219.90Z" fill="#c8cadc"/></g>
<g opacity="0.72"><line x1="665.55" y1="331.90" x2="665.55" y2="321.30" stroke="#c4c6da" stroke-width="0.9" stroke-opacity="1.0"/><path d="M665.55,314.70 L667.65,321.30 L663.45,321.30Z" fill="#c8cadc"/></g>
<g opacity="0.72"><line x1="665.55" y1="226.50" x2="665.55" y2="237.10" stroke="#c4c6da" stroke-width="0.9" stroke-opacity="1.0"/><path d="M665.55,243.70 L667.65,237.10 L663.45,237.10Z" fill="#c8cadc"/></g>
<g opacity="0.72"><line x1="665.55" y1="314.70" x2="665.55" y2="304.10" stroke="#c4c6da" stroke-width="0.9" stroke-opacity="1.0"/><path d="M665.55,297.50 L667.65,304.10 L663.45,304.10Z" fill="#c8cadc"/></g>
<g opacity="0.68"><line x1="665.55" y1="243.70" x2="665.55" y2="254.30" stroke="#c4c6da" stroke-width="0.9" stroke-opacity="0.55"/><path d="M665.55,260.90 L667.65,254.30 L663.45,254.30Z" fill="#c8cadc"/></g>
<g opacity="0.68"><line x1="665.55" y1="297.50" x2="665.55" y2="286.90" stroke="#c4c6da" stroke-width="0.9" stroke-opacity="0.55"/><path d="M665.55,280.30 L667.65,286.90 L663.45,286.90Z" fill="#c8cadc"/></g>
<g opacity="0.26"><line x1="665.55" y1="260.90" x2="665.55" y2="262.80" stroke="#c4c6da" stroke-width="0.9" stroke-opacity="0.6"/><path d="M665.55,269.40 L667.65,262.80 L663.45,262.80Z" fill="#c8cadc"/></g>
<g opacity="0.26"><line x1="665.55" y1="280.30" x2="665.55" y2="278.40" stroke="#c4c6da" stroke-width="0.9" stroke-opacity="0.6"/><path d="M665.55,271.80 L667.65,278.40 L663.45,278.40Z" fill="#c8cadc"/></g>
<line x1="606.4" y1="185.6" x2="606.4" y2="187.6" stroke="#ddd" stroke-width="0.7"/>
<line x1="606.4" y1="355.8" x2="606.4" y2="353.8" stroke="#ddd" stroke-width="0.7"/>
<line x1="635.1" y1="185.6" x2="635.1" y2="187.6" stroke="#ddd" stroke-width="0.7"/>
<line x1="635.1" y1="355.8" x2="635.1" y2="353.8" stroke="#ddd" stroke-width="0.7"/>
<line x1="663.9" y1="185.6" x2="663.9" y2="187.6" stroke="#ddd" stroke-width="0.7"/>
<line x1="663.9" y1="355.8" x2="663.9" y2="353.8" stroke="#ddd" stroke-width="0.7"/>
<line x1="592.5" y1="213.4" x2="594.5" y2="213.4" stroke="#ddd" stroke-width="0.7"/>
<line x1="677.8" y1="213.4" x2="675.8" y2="213.4" stroke="#ddd" stroke-width="0.7"/>
<line x1="592.5" y1="242.0" x2="594.5" y2="242.0" stroke="#ddd" stroke-width="0.7"/>
<line x1="677.8" y1="242.0" x2="675.8" y2="242.0" stroke="#ddd" stroke-width="0.7"/>
<line x1="592.5" y1="270.6" x2="594.5" y2="270.6" stroke="#ddd" stroke-width="0.7"/>
<line x1="677.8" y1="270.6" x2="675.8" y2="270.6" stroke="#ddd" stroke-width="0.7"/>
<line x1="592.5" y1="299.2" x2="594.5" y2="299.2" stroke="#ddd" stroke-width="0.7"/>
<line x1="677.8" y1="299.2" x2="675.8" y2="299.2" stroke="#ddd" stroke-width="0.7"/>
<line x1="592.5" y1="327.8" x2="594.5" y2="327.8" stroke="#ddd" stroke-width="0.7"/>
<line x1="677.8" y1="327.8" x2="675.8" y2="327.8" stroke="#ddd" stroke-width="0.7"/>
<text x="633.9" y="273.9" font-size="9.4" fill="#fff" font-family="Liberation Sans, Arial, sans-serif" stroke="#fff" stroke-width="0.2">H (H′)</text>
<text x="606.8" y="368.9" font-size="10.3" text-anchor="middle" font-family="Liberation Sans, Arial, sans-serif" stroke="#000" stroke-width="0.2">−0.02</text>
<text x="635.4" y="368.9" font-size="10.3" text-anchor="middle" font-family="Liberation Sans, Arial, sans-serif" stroke="#000" stroke-width="0.2">0</text>
<text x="664.1" y="368.9" font-size="10.3" text-anchor="middle" font-family="Liberation Sans, Arial, sans-serif" stroke="#000" stroke-width="0.2">0.02</text>
<text x="619.8" y="385.7" font-size="10.3" font-family="Liberation Sans, Arial, sans-serif" stroke="#000" stroke-width="0.2"><tspan font-style="italic">k</tspan><tspan font-size="7" font-style="italic" dy="2.6">x</tspan><tspan dy="-2.6"> [Å</tspan><tspan font-size="7" dy="-4">−1</tspan><tspan dy="4">]</tspan></text>
<text x="492.7" y="217.4" font-size="10.3" text-anchor="end" font-family="Liberation Sans, Arial, sans-serif" stroke="#000" stroke-width="0.2">0.04</text>
<text x="492.7" y="246.0" font-size="10.3" text-anchor="end" font-family="Liberation Sans, Arial, sans-serif" stroke="#000" stroke-width="0.2">0.02</text>
<text x="492.7" y="274.3" font-size="10.3" text-anchor="end" font-family="Liberation Sans, Arial, sans-serif" stroke="#000" stroke-width="0.2">0</text>
<text x="492.7" y="302.9" font-size="10.3" text-anchor="end" font-family="Liberation Sans, Arial, sans-serif" stroke="#000" stroke-width="0.2">−0.02</text>
<text x="492.7" y="331.5" font-size="10.3" text-anchor="end" font-family="Liberation Sans, Arial, sans-serif" stroke="#000" stroke-width="0.2">−0.04</text>
<text transform="translate(455.2,271.5) rotate(-90)" font-size="10.9" text-anchor="middle" font-family="Liberation Sans, Arial, sans-serif" stroke="#000" stroke-width="0.2"><tspan font-style="italic">k</tspan><tspan font-size="7" font-style="italic" dy="2.6">z</tspan><tspan dy="-2.6"> [Å</tspan><tspan font-size="7" dy="-4">−1</tspan><tspan dy="4">]</tspan></text>
<text x="0.3" y="223.4" font-size="14.5" font-weight="bold" font-family="Liberation Sans, Arial, sans-serif" stroke="#000" stroke-width="0.2">d</text>
<text x="16.0" y="227.8" font-size="11" font-style="italic" font-family="Liberation Sans, Arial, sans-serif" stroke="#000" stroke-width="0.2">B<tspan font-size="7.8" dy="2.9">0</tspan><tspan dy="-2.9">//c</tspan></text>
<path d="M27.5,236.2 L36.4,251.2 L29.7,249.6 L29.7,323.5 L25.5,323.5 L25.5,249.6 L19.8,251.2Z" fill="url(#gpur)"/>
<rect x="56.4" y="236" width="32.6" height="94.5" fill="url(#gcoil)"/>
<rect x="55.40" y="236" width="5.35" height="94.5" fill="url(#gcol)"/>
<rect x="60.75" y="236" width="5.35" height="94.5" fill="url(#gcol)"/>
<rect x="66.10" y="236" width="5.35" height="94.5" fill="url(#gcol)"/>
<rect x="71.45" y="236" width="5.35" height="94.5" fill="url(#gcol)"/>
<rect x="76.80" y="236" width="5.35" height="94.5" fill="url(#gcol)"/>
<rect x="82.15" y="236" width="8.45" height="94.5" fill="url(#gcol)"/>
<rect x="56.0" y="235.6" width="34.2" height="3.0" fill="url(#gyel)"/>
<rect x="56.0" y="330.3" width="33.2" height="2.7" fill="url(#gyel)"/>
<path d="M55.40,236 V235.60 A5.00,5.00 0 0 1 65.40,235.60 V236" fill="none" stroke="#7a5634" stroke-width="0.8"/>
<path d="M60.75,236 V235.60 A5.00,5.00 0 0 1 70.75,235.60 V236" fill="none" stroke="#7a5634" stroke-width="0.8"/>
<path d="M66.10,236 V235.60 A5.00,5.00 0 0 1 76.10,235.60 V236" fill="none" stroke="#7a5634" stroke-width="0.8"/>
<path d="M71.45,236 V235.60 A5.00,5.00 0 0 1 81.45,235.60 V236" fill="none" stroke="#7a5634" stroke-width="0.8"/>
<path d="M76.80,236 V235.60 A5.00,5.00 0 0 1 86.80,235.60 V236" fill="none" stroke="#7a5634" stroke-width="0.8"/>
<path d="M82.15,236 V234.82 A4.22,4.22 0 0 1 90.60,234.82 V236" fill="none" stroke="#7a5634" stroke-width="0.8"/>
<line x1="60.75" y1="236" x2="60.75" y2="333.2" stroke="#6e5444" stroke-width="1.3" opacity="0.9"/>
<line x1="66.10" y1="236" x2="66.10" y2="333.2" stroke="#6e5444" stroke-width="1.3" opacity="0.9"/>
<line x1="71.45" y1="236" x2="71.45" y2="333.2" stroke="#6e5444" stroke-width="1.3" opacity="0.9"/>
<line x1="76.80" y1="236" x2="76.80" y2="333.2" stroke="#6e5444" stroke-width="1.3" opacity="0.9"/>
<line x1="82.15" y1="236" x2="82.15" y2="333.2" stroke="#6e5444" stroke-width="1.3" opacity="0.9"/>
<path d="M60.45,333 V334.9 A2.8,2.8 0 0 0 66.05,334.9 V333" fill="none" stroke="#7a5634" stroke-width="0.8"/>
<path d="M65.80,333 V334.9 A2.8,2.8 0 0 0 71.40,334.9 V333" fill="none" stroke="#7a5634" stroke-width="0.8"/>
<path d="M71.15,333 V334.9 A2.8,2.8 0 0 0 76.75,334.9 V333" fill="none" stroke="#7a5634" stroke-width="0.8"/>
<path d="M76.50,333 V334.9 A2.8,2.8 0 0 0 82.10,334.9 V333" fill="none" stroke="#7a5634" stroke-width="0.8"/>
<path d="M81.85,333 V334.9 A2.8,2.8 0 0 0 87.45,334.9 V333" fill="none" stroke="#7a5634" stroke-width="0.8"/>
<line x1="55.4" y1="232" x2="55.4" y2="353.2" stroke="#7a5634" stroke-width="0.9"/>
<line x1="90.6" y1="232" x2="90.6" y2="353.2" stroke="#7a5634" stroke-width="0.9"/>
<line x1="97" y1="314.4" x2="97" y2="256" stroke="#3c9c48" stroke-width="1.6"/>
<path d="M97,250.9 L100.9,258 L97,256.6 L93.1,258Z" fill="#3c9c48"/>
<text x="104.3" y="281.3" font-size="10.2" font-style="italic" text-anchor="middle" font-family="Liberation Sans, Arial, sans-serif" stroke="#000" stroke-width="0.2">I</text>
<path d="M90.4,237.2 H113.4 A21.2,21.2 0 0 1 134.4,258.4 V274.7" fill="none" stroke="#3a64a8" stroke-width="1.2"/>
<path d="M134.4,294.7 V306 A24.8,24.8 0 0 1 109.6,330.8 H90.4" fill="none" stroke="#3a64a8" stroke-width="1.2"/>
<circle cx="134.4" cy="284.7" r="10" fill="#fff" stroke="#222" stroke-width="1.2"/>
<line x1="134.4" y1="275.9" x2="134.4" y2="289" stroke="#222" stroke-width="1.1"/>
<path d="M134.4,293.4 L136.7,288.4 L132.1,288.4Z" fill="#222"/>
<line x1="126.4" y1="268.7" x2="132.0" y2="268.7" stroke="#666" stroke-width="1.3"/>
<path d="M126.7,301.5 H131.7 M129.2,299.1 V303.9" stroke="#333" stroke-width="1.1"/>
<path d="M96.2,330.1 H101.9 V321.6 H106.5 V330.1 H111.6" fill="none" stroke="#4a4a4a" stroke-width="1.1"/>
<text x="224.3" y="223.2" font-size="14.5" font-weight="bold" font-family="Liberation Sans, Arial, sans-serif" stroke="#000" stroke-width="0.2">e</text>
<line x1="238.8" y1="327.8" x2="417.6" y2="327.8" stroke="#8a8a8a" stroke-width="0.9"/>
<polyline points="239.3,322.9 240.2,320.5 241.2,325.5 242.1,328.5 243.1,331.8 244.0,327.1 245.0,324.1 245.9,323.0 246.9,330.0 247.8,334.1 248.8,327.9 249.7,320.9 250.7,322.2 251.6,334.0 252.6,327.5 253.5,318.6 254.5,326.2 255.4,321.2 256.4,323.7 257.3,324.4 258.3,323.3 259.2,329.1 260.2,326.3 261.1,323.9 262.1,328.5 263.0,330.4 264.0,319.0 264.9,325.4 265.9,322.1 266.8,325.8 267.8,320.7 268.7,326.7 269.7,326.4 270.6,325.2 271.6,321.8 272.5,324.8 273.5,321.6 274.4,320.4 275.4,327.6 276.3,321.5 277.3,332.0 278.2,344.5 279.2,317.4 280.0,328.6 281.3,327.3 282.6,331.1 283.9,324.1 285.1,328.6 286.4,322.1 287.7,326.0 289.0,321.5 290.3,324.7 291.6,320.2 292.2,313.1 292.9,328.6 294.1,323.4 295.4,319.6 296.7,315.7 298.0,311.9 299.3,308.0 299.9,304.1 300.6,309.3 301.9,302.9 302.5,306.7 303.4,296.4 304.4,309.3 305.7,315.7 307.0,302.9 307.6,317.0 308.9,319.6 309.6,332.4 310.8,318.3 312.1,323.4 313.4,326.0 314.7,322.1 316.0,328.6 317.3,311.9 317.9,328.6 318.6,336.3 319.8,328.6 321.1,323.4 322.4,322.1 323.7,327.3 325.0,331.1 326.3,320.8 327.6,331.1 328.8,327.3 329.5,325.7 330.5,325.0 331.4,327.8 332.4,324.5 333.3,324.4 334.3,323.3 335.2,324.2 336.2,327.3 337.1,324.9 338.1,327.1 339.0,335.3 340.0,328.8 340.9,319.3 341.9,334.6 342.8,328.2 343.8,322.3 344.7,330.8 345.7,326.7 346.6,323.8 347.6,323.7 348.5,322.0 349.5,326.8 350.4,331.5 351.4,325.1 352.3,328.5 353.3,335.2 354.2,321.0 355.2,327.8 356.1,325.2 357.1,321.7 358.0,321.9 359.0,326.5 359.9,328.6 360.5,326.0 362.0,309.8 363.5,281.6 364.9,259.0 366.3,239.0 367.2,230.1 368.0,234.0 368.6,236.3 369.1,246.2 370.6,251.9 371.4,267.4 372.5,287.2 373.4,301.4 374.8,309.8 376.2,315.5 377.5,324.0 378.9,331.6 379.9,321.7 380.8,332.9 381.8,326.7 382.7,318.3 383.7,324.7 384.6,324.3 385.6,333.9 386.5,323.0 387.5,325.4 388.4,325.3 389.4,324.9 390.3,322.4 391.3,327.6 392.2,331.6 393.2,329.5 394.1,322.3 395.1,321.3 396.0,327.1 397.0,323.3 397.9,323.7 398.9,318.9 399.8,335.6 400.8,330.8 401.7,322.1 402.7,330.8 403.6,332.8 404.6,315.6 405.5,324.1 406.5,324.8 407.4,329.6 408.4,326.0 409.3,325.5 410.3,326.3 411.2,335.1 412.2,336.5 413.1,324.2 414.1,322.3 415.0,338.6 416.0,322.1 416.9,324.0" fill="none" stroke="#111" stroke-width="1.35" stroke-linejoin="round"/>
<rect x="238.8" y="220.3" width="178.8" height="126.9" fill="none" stroke="#3a3a3a" stroke-width="1.2"/>
<line x1="253.7" y1="220.3" x2="253.7" y2="223.9" stroke="#3a3a3a" stroke-width="1"/>
<line x1="253.7" y1="347.2" x2="253.7" y2="343.59999999999997" stroke="#3a3a3a" stroke-width="1"/>
<line x1="268.6" y1="220.3" x2="268.6" y2="223.9" stroke="#3a3a3a" stroke-width="1"/>
<line x1="268.6" y1="347.2" x2="268.6" y2="343.59999999999997" stroke="#3a3a3a" stroke-width="1"/>
<line x1="283.5" y1="220.3" x2="283.5" y2="223.9" stroke="#3a3a3a" stroke-width="1"/>
<line x1="283.5" y1="347.2" x2="283.5" y2="343.59999999999997" stroke="#3a3a3a" stroke-width="1"/>
<line x1="298.4" y1="220.3" x2="298.4" y2="226.8" stroke="#3a3a3a" stroke-width="1"/>
<line x1="298.4" y1="347.2" x2="298.4" y2="340.7" stroke="#3a3a3a" stroke-width="1"/>
<line x1="313.3" y1="220.3" x2="313.3" y2="223.9" stroke="#3a3a3a" stroke-width="1"/>
<line x1="313.3" y1="347.2" x2="313.3" y2="343.59999999999997" stroke="#3a3a3a" stroke-width="1"/>
<line x1="328.2" y1="220.3" x2="328.2" y2="223.9" stroke="#3a3a3a" stroke-width="1"/>
<line x1="328.2" y1="347.2" x2="328.2" y2="343.59999999999997" stroke="#3a3a3a" stroke-width="1"/>
<line x1="343.1" y1="220.3" x2="343.1" y2="223.9" stroke="#3a3a3a" stroke-width="1"/>
<line x1="343.1" y1="347.2" x2="343.1" y2="343.59999999999997" stroke="#3a3a3a" stroke-width="1"/>
<line x1="358.0" y1="220.3" x2="358.0" y2="226.8" stroke="#3a3a3a" stroke-width="1"/>
<line x1="358.0" y1="347.2" x2="358.0" y2="340.7" stroke="#3a3a3a" stroke-width="1"/>
<line x1="372.9" y1="220.3" x2="372.9" y2="223.9" stroke="#3a3a3a" stroke-width="1"/>
<line x1="372.9" y1="347.2" x2="372.9" y2="343.59999999999997" stroke="#3a3a3a" stroke-width="1"/>
<line x1="387.8" y1="220.3" x2="387.8" y2="223.9" stroke="#3a3a3a" stroke-width="1"/>
<line x1="387.8" y1="347.2" x2="387.8" y2="343.59999999999997" stroke="#3a3a3a" stroke-width="1"/>
<line x1="402.7" y1="220.3" x2="402.7" y2="223.9" stroke="#3a3a3a" stroke-width="1"/>
<line x1="402.7" y1="347.2" x2="402.7" y2="343.59999999999997" stroke="#3a3a3a" stroke-width="1"/>
<text x="238.8" y="360.0" font-size="10.6" text-anchor="middle" font-family="Liberation Sans, Arial, sans-serif" stroke="#000" stroke-width="0.2">7.376</text>
<text x="298.4" y="360.0" font-size="10.6" text-anchor="middle" font-family="Liberation Sans, Arial, sans-serif" stroke="#000" stroke-width="0.2">7.378</text>
<text x="358.0" y="360.0" font-size="10.6" text-anchor="middle" font-family="Liberation Sans, Arial, sans-serif" stroke="#000" stroke-width="0.2">7.380</text>
<text x="417.6" y="360.0" font-size="10.6" text-anchor="middle" font-family="Liberation Sans, Arial, sans-serif" stroke="#000" stroke-width="0.2">7.382</text>
<text x="328.6" y="375.8" font-size="10.6" text-anchor="middle" font-family="Liberation Sans, Arial, sans-serif" stroke="#000" stroke-width="0.2">Magnetic field (T)</text>
<text transform="translate(232.0,285.0) rotate(-90)" font-size="10.5" text-anchor="middle" font-family="Liberation Sans, Arial, sans-serif" stroke="#000" stroke-width="0.2">Intensity (arb. unit)</text>
<text x="297.8" y="294.4" font-size="9.1" text-anchor="middle" font-family="Liberation Sans, Arial, sans-serif" stroke="#000" stroke-width="0.2">Line L</text>
<text x="379.8" y="239.2" font-size="9.1" font-family="Liberation Sans, Arial, sans-serif" stroke="#000" stroke-width="0.2">Line H</text>
</svg></body></html>
